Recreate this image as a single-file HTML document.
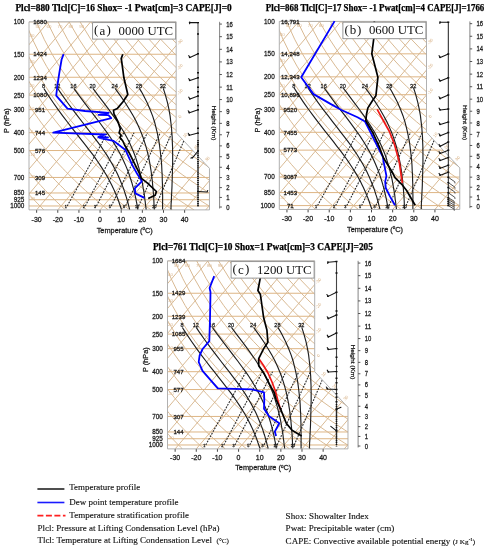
<!DOCTYPE html><html><head><meta charset="utf-8"><style>
    html,body{margin:0;padding:0;background:#fff;overflow:hidden}
    svg{display:block}
    text{font-family:"Liberation Sans",sans-serif;fill:#1a1a1a;stroke:#1a1a1a;stroke-width:0.26px}
    .pl{font-size:7px;text-anchor:end}
    .hl{font-size:6.1px;text-anchor:middle}
    .ml{font-size:5.6px;text-anchor:middle;fill:#444}
    .tn{font-size:4.4px;text-anchor:middle;fill:#d9b48a;stroke:none}
    .mr{font-size:3.8px;text-anchor:middle;fill:#444}
    .tl{font-size:7px;text-anchor:middle}
    .al{font-size:7.3px;text-anchor:middle}
    .hz{font-size:7.4px}
    .hk{font-size:5.9px;text-anchor:middle}
    .tt{font-family:"Liberation Serif",serif;font-weight:bold;font-size:9.4px;fill:#000;stroke:#000;stroke-width:0.25px}
    .bx{font-family:"Liberation Serif",serif;font-size:13px;fill:#111;stroke:none}
    .lg{font-family:"Liberation Serif",serif;font-size:8.2px;fill:#111;stroke:#111;stroke-width:0.12px}
    </style></head><body><svg width="489" height="550" viewBox="0 0 489 550">
<g transform="translate(0,0)"><clipPath id="ca"><polygon points="29,209.88 209.48,209.88 209.48,168.35 176.2,132.69 176.2,21.8 29,21.8"/></clipPath>
<g clip-path="url(#ca)" fill="none">
<path d="M29,21.8H176.2M29,54.24H176.2M29,77.25H176.2M29,95.09H176.2M29,109.68H176.2M29,132.69H176.2M29,150.54H192.86M29,177.45H209.48M29,192.98H209.48M29,199.74H209.48M29,205.98H209.48" stroke="#deb584" stroke-width="1"/>
<path d="M-153.63,209.88L6.14,21.8M-132.48,209.88L27.28,21.8M-111.34,209.88L48.42,21.8M-90.2,209.88L69.56,21.8M-69.06,209.88L90.7,21.8M-47.92,209.88L111.84,21.8M-26.78,209.88L132.98,21.8M-5.64,209.88L154.12,21.8M15.5,209.88L175.26,21.8M36.64,209.88L196.4,21.8M57.78,209.88L217.55,21.8M78.93,209.88L238.69,21.8M100.07,209.88L259.83,21.8M121.21,209.88L280.97,21.8M142.35,209.88L302.11,21.8M163.49,209.88L323.25,21.8M184.63,209.88L344.39,21.8M205.77,209.88L365.53,21.8M43.86,209.88 L41.92,207.95 L39.96,205.98 L37.97,203.95 L35.97,201.88 L33.93,199.74 L31.87,197.55 L29.79,195.3 L27.68,192.98 L25.54,190.59 L23.37,188.13 L21.17,185.59 L18.94,182.97 L16.68,180.26 L14.39,177.45 L12.06,174.54 L9.7,171.52 L7.3,168.39 L4.86,165.12 L2.38,161.72 L-0.13,158.16 L-2.69,154.44 L-5.3,150.54 L-7.95,146.43 L-10.64,142.11 L-13.39,137.54 L-16.18,132.69 L-19.03,127.53 L-21.92,122.01 L-24.86,116.08 L-27.86,109.68 L-30.89,102.72 L-33.96,95.09 L-37.06,86.67 L-40.17,77.25 L-43.25,66.57 L-46.23,54.24 L-49.02,39.65 L-51.39,21.8M65.3,209.88 L63.21,207.95 L61.1,205.98 L58.96,203.95 L56.8,201.88 L54.61,199.74 L52.39,197.55 L50.14,195.3 L47.86,192.98 L45.55,190.59 L43.21,188.13 L40.83,185.59 L38.42,182.97 L35.97,180.26 L33.48,177.45 L30.96,174.54 L28.39,171.52 L25.78,168.39 L23.13,165.12 L20.43,161.72 L17.69,158.16 L14.89,154.44 L12.04,150.54 L9.14,146.43 L6.18,142.11 L3.17,137.54 L0.09,132.69 L-3.05,127.53 L-6.26,122.01 L-9.53,116.08 L-12.87,109.68 L-16.27,102.72 L-19.74,95.09 L-23.26,86.67 L-26.82,77.25 L-30.4,66.57 L-33.94,54.24 L-37.35,39.65 L-40.44,21.8M86.73,209.88 L84.5,207.95 L82.24,205.98 L79.95,203.95 L77.63,201.88 L75.28,199.74 L72.9,197.55 L70.49,195.3 L68.04,192.98 L65.56,190.59 L63.04,188.13 L60.49,185.59 L57.89,182.97 L55.25,180.26 L52.58,177.45 L49.85,174.54 L47.08,171.52 L44.27,168.39 L41.4,165.12 L38.48,161.72 L35.51,158.16 L32.48,154.44 L29.39,150.54 L26.23,146.43 L23.01,142.11 L19.72,137.54 L16.36,132.69 L12.92,127.53 L9.41,122.01 L5.81,116.08 L2.12,109.68 L-1.65,102.72 L-5.51,95.09 L-9.45,86.67 L-13.47,77.25 L-17.55,66.57 L-21.64,54.24 L-25.68,39.65 L-29.49,21.8M108.17,209.88 L105.79,207.95 L103.38,205.98 L100.94,203.95 L98.47,201.88 L95.96,199.74 L93.42,197.55 L90.84,195.3 L88.22,192.98 L85.57,190.59 L82.88,188.13 L80.14,185.59 L77.36,182.97 L74.54,180.26 L71.67,177.45 L68.75,174.54 L65.78,171.52 L62.75,168.39 L59.67,165.12 L56.53,161.72 L53.33,158.16 L50.06,154.44 L46.73,150.54 L43.32,146.43 L39.84,142.11 L36.28,137.54 L32.63,132.69 L28.9,127.53 L25.07,122.01 L21.14,116.08 L17.11,109.68 L12.97,102.72 L8.72,95.09 L4.35,86.67 L-0.12,77.25 L-4.7,66.57 L-9.35,54.24 L-14.01,39.65 L-18.54,21.8M129.61,209.88 L127.08,207.95 L124.52,205.98 L121.93,203.95 L119.3,201.88 L116.63,199.74 L113.93,197.55 L111.19,195.3 L108.41,192.98 L105.58,190.59 L102.71,188.13 L99.8,185.59 L96.84,182.97 L93.82,180.26 L90.76,177.45 L87.64,174.54 L84.47,171.52 L81.24,168.39 L77.94,165.12 L74.58,161.72 L71.15,158.16 L67.65,154.44 L64.07,150.54 L60.41,146.43 L56.67,142.11 L52.83,137.54 L48.9,132.69 L44.87,127.53 L40.73,122.01 L36.47,116.08 L32.1,109.68 L27.59,102.72 L22.94,95.09 L18.16,86.67 L13.22,77.25 L8.15,66.57 L2.95,54.24 L-2.34,39.65 L-7.58,21.8M151.05,209.88 L148.37,207.95 L145.66,205.98 L142.92,203.95 L140.13,201.88 L137.31,199.74 L134.44,197.55 L131.54,195.3 L128.59,192.98 L125.59,190.59 L122.55,188.13 L119.45,185.59 L116.31,182.97 L113.11,180.26 L109.85,177.45 L106.54,174.54 L103.16,171.52 L99.72,168.39 L96.21,165.12 L92.63,161.72 L88.97,158.16 L85.24,154.44 L81.42,150.54 L77.5,146.43 L73.5,142.11 L69.39,137.54 L65.18,132.69 L60.85,127.53 L56.39,122.01 L51.81,116.08 L47.08,109.68 L42.21,102.72 L37.17,95.09 L31.96,86.67 L26.57,77.25 L21,66.57 L15.24,54.24 L9.34,39.65 L3.37,21.8M172.49,209.88 L169.66,207.95 L166.8,205.98 L163.91,203.95 L160.97,201.88 L157.98,199.74 L154.96,197.55 L151.89,195.3 L148.77,192.98 L145.6,190.59 L142.38,188.13 L139.11,185.59 L135.78,182.97 L132.39,180.26 L128.95,177.45 L125.44,174.54 L121.86,171.52 L118.21,168.39 L114.48,165.12 L110.68,161.72 L106.8,158.16 L102.82,154.44 L98.76,150.54 L94.59,146.43 L90.33,142.11 L85.95,137.54 L81.45,132.69 L76.82,127.53 L72.06,122.01 L67.14,116.08 L62.07,109.68 L56.83,102.72 L51.4,95.09 L45.77,86.67 L39.92,77.25 L33.85,66.57 L27.54,54.24 L21.01,39.65 L14.32,21.8M193.92,209.88 L190.95,207.95 L187.95,205.98 L184.89,203.95 L181.8,201.88 L178.66,199.74 L175.47,197.55 L172.24,195.3 L168.95,192.98 L165.61,190.59 L162.22,188.13 L158.77,185.59 L155.25,182.97 L151.68,180.26 L148.04,177.45 L144.33,174.54 L140.55,171.52 L136.69,168.39 L132.75,165.12 L128.73,161.72 L124.62,158.16 L120.41,154.44 L116.1,150.54 L111.69,146.43 L107.16,142.11 L102.5,137.54 L97.72,132.69 L92.8,127.53 L87.72,122.01 L82.48,116.08 L77.06,109.68 L71.45,102.72 L65.63,95.09 L59.57,86.67 L53.27,77.25 L46.7,66.57 L39.83,54.24 L32.68,39.65 L25.27,21.8M215.36,209.88 L212.25,207.95 L209.09,205.98 L205.88,203.95 L202.63,201.88 L199.33,199.74 L195.99,197.55 L192.59,195.3 L189.13,192.98 L185.62,190.59 L182.05,188.13 L178.42,185.59 L174.73,182.97 L170.97,180.26 L167.13,177.45 L163.23,174.54 L159.24,171.52 L155.18,168.39 L151.02,165.12 L146.78,161.72 L142.44,158.16 L138,154.44 L133.44,150.54 L128.78,146.43 L123.98,142.11 L119.06,137.54 L113.99,132.69 L108.77,127.53 L103.38,122.01 L97.81,116.08 L92.05,109.68 L86.07,102.72 L79.85,95.09 L73.38,86.67 L66.62,77.25 L59.54,66.57 L52.13,54.24 L44.35,39.65 L36.22,21.8M236.8,209.88 L233.54,207.95 L230.23,205.98 L226.87,203.95 L223.47,201.88 L220.01,199.74 L216.5,197.55 L212.94,195.3 L209.31,192.98 L205.63,190.59 L201.89,188.13 L198.08,185.59 L194.2,182.97 L190.25,180.26 L186.23,177.45 L182.12,174.54 L177.93,171.52 L173.66,168.39 L169.29,165.12 L164.83,161.72 L160.26,158.16 L155.58,154.44 L150.79,150.54 L145.87,146.43 L140.81,142.11 L135.62,137.54 L130.26,132.69 L124.74,127.53 L119.04,122.01 L113.15,116.08 L107.04,109.68 L100.69,102.72 L94.08,95.09 L87.18,86.67 L79.97,77.25 L72.39,66.57 L64.42,54.24 L56.02,39.65 L47.17,21.8M258.24,209.88 L254.83,207.95 L251.37,205.98 L247.86,203.95 L244.3,201.88 L240.69,199.74 L237.02,197.55 L233.29,195.3 L229.5,192.98 L225.64,190.59 L221.72,188.13 L217.73,185.59 L213.67,182.97 L209.54,180.26 L205.32,177.45 L201.02,174.54 L196.63,171.52 L192.14,168.39 L187.56,165.12 L182.88,161.72 L178.08,158.16 L173.17,154.44 L168.13,150.54 L162.96,146.43 L157.64,142.11 L152.17,137.54 L146.53,132.69 L140.72,127.53 L134.71,122.01 L128.48,116.08 L122.02,109.68 L115.31,102.72 L108.31,95.09 L100.99,86.67 L93.31,77.25 L85.24,66.57 L76.72,54.24 L67.69,39.65 L58.12,21.8M279.67,209.88 L276.12,207.95 L272.51,205.98 L268.85,203.95 L265.13,201.88 L261.36,199.74 L257.53,197.55 L253.64,195.3 L249.68,192.98 L245.65,190.59 L241.56,188.13 L237.39,185.59 L233.15,182.97 L228.82,180.26 L224.41,177.45 L219.91,174.54 L215.32,171.52 L210.63,168.39 L205.83,165.12 L200.93,161.72 L195.9,158.16 L190.76,154.44 L185.47,150.54 L180.05,146.43 L174.47,142.11 L168.73,137.54 L162.81,132.69 L156.69,127.53 L150.37,122.01 L143.82,116.08 L137.01,109.68 L129.93,102.72 L122.53,95.09 L114.79,86.67 L106.66,77.25 L98.09,66.57 L89.01,54.24 L79.36,39.65 L69.07,21.8M301.11,209.88 L297.41,207.95 L293.65,205.98 L289.84,203.95 L285.97,201.88 L282.04,199.74 L278.04,197.55 L273.99,195.3 L269.86,192.98 L265.66,190.59 L261.39,188.13 L257.05,185.59 L252.62,182.97 L248.11,180.26 L243.5,177.45 L238.81,174.54 L234.01,171.52 L229.11,168.39 L224.1,165.12 L218.98,161.72 L213.73,158.16 L208.34,154.44 L202.82,150.54 L197.14,146.43 L191.3,142.11 L185.28,137.54 L179.08,132.69 L172.67,127.53 L166.03,122.01 L159.15,116.08 L152,109.68 L144.55,102.72 L136.76,95.09 L128.6,86.67 L120.01,77.25 L110.94,66.57 L101.31,54.24 L91.03,39.65 L80.02,21.8M322.55,209.88 L318.7,207.95 L314.79,205.98 L310.83,203.95 L306.8,201.88 L302.71,199.74 L298.56,197.55 L294.34,195.3 L290.04,192.98 L285.67,190.59 L281.23,188.13 L276.7,185.59 L272.09,182.97 L267.39,180.26 L262.6,177.45 L257.7,174.54 L252.71,171.52 L247.6,168.39 L242.37,165.12 L237.03,161.72 L231.55,158.16 L225.93,154.44 L220.16,150.54 L214.23,146.43 L208.13,142.11 L201.84,137.54 L195.35,132.69 L188.64,127.53 L181.69,122.01 L174.49,116.08 L166.99,109.68 L159.17,102.72 L150.99,95.09 L142.4,86.67 L133.36,77.25 L123.79,66.57 L113.6,54.24 L102.7,39.65 L90.97,21.8M343.99,209.88 L339.99,207.95 L335.93,205.98 L331.81,203.95 L327.63,201.88 L323.39,199.74 L319.07,197.55 L314.68,195.3 L310.22,192.98 L305.68,190.59 L301.06,188.13 L296.36,185.59 L291.56,182.97 L286.68,180.26 L281.69,177.45 L276.6,174.54 L271.4,171.52 L266.08,168.39 L260.64,165.12 L255.08,161.72 L249.37,158.16 L243.51,154.44 L237.5,150.54 L231.32,146.43 L224.96,142.11 L218.4,137.54 L211.62,132.69 L204.62,127.53 L197.36,122.01 L189.82,116.08 L181.97,109.68 L173.79,102.72 L165.21,95.09 L156.21,86.67 L146.71,77.25 L136.64,66.57 L125.9,54.24 L114.38,39.65 L101.92,21.8M365.43,209.88 L361.28,207.95 L357.07,205.98 L352.8,203.95 L348.47,201.88 L344.06,199.74 L339.59,197.55 L335.03,195.3 L330.41,192.98 L325.7,190.59 L320.9,188.13 L316.02,185.59 L311.04,182.97 L305.96,180.26 L300.78,177.45 L295.49,174.54 L290.09,171.52 L284.57,168.39 L278.91,165.12 L273.13,161.72 L267.19,158.16 L261.1,154.44 L254.84,150.54 L248.41,146.43 L241.78,142.11 L234.95,137.54 L227.89,132.69 L220.59,127.53 L213.02,122.01 L205.15,116.08 L196.96,109.68 L188.41,102.72 L179.44,95.09 L170.01,86.67 L160.06,77.25 L149.49,66.57 L138.19,54.24 L126.05,39.65 L112.87,21.8M386.86,209.88 L382.57,207.95 L378.21,205.98 L373.79,203.95 L369.3,201.88 L364.74,199.74 L360.1,197.55 L355.38,195.3 L350.59,192.98 L345.71,190.59 L340.74,188.13 L335.67,185.59 L330.51,182.97 L325.25,180.26 L319.88,177.45 L314.39,174.54 L308.78,171.52 L303.05,168.39 L297.18,165.12 L291.17,161.72 L285.01,158.16 L278.69,154.44 L272.19,150.54 L265.5,146.43 L258.61,142.11 L251.51,137.54 L244.17,132.69 L236.57,127.53 L228.68,122.01 L220.49,116.08 L211.95,109.68 L203.03,102.72 L193.67,95.09 L183.82,86.67 L173.41,77.25 L162.33,66.57 L150.49,54.24 L137.72,39.65 L123.82,21.8M408.3,209.88 L403.86,207.95 L399.36,205.98 L394.78,203.95 L390.13,201.88 L385.41,199.74 L380.61,197.55 L375.73,195.3 L370.77,192.98 L365.72,190.59 L360.57,188.13 L355.33,185.59 L349.98,182.97 L344.53,180.26 L338.97,177.45 L333.29,174.54 L327.48,171.52 L321.54,168.39 L315.46,165.12 L309.22,161.72 L302.83,158.16 L296.27,154.44 L289.53,150.54 L282.59,146.43 L275.44,142.11 L268.06,137.54 L260.44,132.69 L252.54,127.53 L244.35,122.01 L235.82,116.08 L226.94,109.68 L217.65,102.72 L207.9,95.09 L197.62,86.67 L186.75,77.25 L175.18,66.57 L162.78,54.24 L149.39,39.65 L134.77,21.8M429.74,209.88 L425.15,207.95 L420.5,205.98 L415.77,203.95 L410.97,201.88 L406.09,199.74 L401.13,197.55 L396.08,195.3 L390.95,192.98 L385.73,190.59 L380.41,188.13 L374.98,185.59 L369.46,182.97 L363.82,180.26 L358.06,177.45 L352.18,174.54 L346.17,171.52 L340.02,168.39 L333.73,165.12 L327.27,161.72 L320.66,158.16 L313.86,154.44 L306.87,150.54 L299.68,146.43 L292.27,142.11 L284.62,137.54 L276.71,132.69 L268.51,127.53 L260.01,122.01 L251.16,116.08 L241.93,109.68 L232.27,102.72 L222.12,95.09 L211.43,86.67 L200.1,77.25 L188.03,66.57 L175.08,54.24 L161.06,39.65 L145.72,21.8M451.18,209.88 L446.44,207.95 L441.64,205.98 L436.76,203.95 L431.8,201.88 L426.76,199.74 L421.64,197.55 L416.43,195.3 L411.13,192.98 L405.74,190.59 L400.24,188.13 L394.64,185.59 L388.93,182.97 L383.1,180.26 L377.15,177.45 L371.08,174.54 L364.86,171.52 L358.51,168.39 L352,165.12 L345.32,161.72 L338.48,158.16 L331.45,154.44 L324.22,150.54 L316.77,146.43 L309.1,142.11 L301.18,137.54 L292.98,132.69 L284.49,127.53 L275.67,122.01 L266.49,116.08 L256.91,109.68 L246.89,102.72 L236.35,95.09 L225.24,86.67 L213.45,77.25 L200.88,66.57 L187.38,54.24 L172.73,39.65 L156.67,21.8M472.61,209.88 L467.73,207.95 L462.78,205.98 L457.75,203.95 L452.63,201.88 L447.44,199.74 L442.16,197.55 L436.78,195.3 L431.31,192.98 L425.75,190.59 L420.08,188.13 L414.3,185.59 L408.4,182.97 L402.39,180.26 L396.25,177.45 L389.97,174.54 L383.56,171.52 L376.99,168.39 L370.27,165.12 L363.37,161.72 L356.3,158.16 L349.03,154.44 L341.56,150.54 L333.86,146.43 L325.93,142.11 L317.73,137.54 L309.25,132.69 L300.46,127.53 L291.33,122.01 L281.83,116.08 L271.9,109.68 L261.51,102.72 L250.58,95.09 L239.04,86.67 L226.8,77.25 L213.73,66.57 L199.67,54.24 L184.4,39.65 L167.62,21.8" stroke="#d7b68e" stroke-width="0.95"/>
<path d="M121.66,209.88 L120.95,207.95 L120.27,205.98 L119.55,203.95 L118.87,201.88 L118.12,199.74 L117.3,197.55 L116.28,195.3 L115.32,192.98 L114.29,190.59 L113.21,188.13 L111.94,185.59 L110.63,182.97 L109.26,180.26 L107.73,177.45 L106.04,174.54 L104.2,171.52 L102.22,168.39 L100.09,165.12 L97.84,161.72 L95.35,158.16 L92.64,154.44 L89.7,150.54 L86.45,146.43 L83.14,142.11 L79.55,137.54 L75.71,132.69 L71.64,127.53 L67.38,122.01 L62.86,116.08 L58.13,109.68 L53.27,102.72 L48.11,95.09 L45.99,91.83 L43.87,88.43M129.71,209.88 L129.25,207.95 L128.69,205.98 L128.22,203.95 L127.67,201.88 L127.04,199.74 L126.47,197.55 L125.69,195.3 L124.98,192.98 L124.2,190.59 L123.37,188.13 L122.35,185.59 L121.28,182.97 L120.16,180.26 L119,177.45 L117.69,174.54 L116.22,171.52 L114.6,168.39 L112.85,165.12 L110.85,161.72 L108.73,158.16 L106.39,154.44 L103.7,150.54 L100.94,146.43 L97.76,142.11 L94.29,137.54 L90.57,132.69 L86.62,127.53 L82.25,122.01 L77.73,116.08 L72.75,109.68 L67.64,102.72 L62.24,95.09 L59.99,91.83 L57.74,88.43M137.89,209.88 L137.54,207.95 L137.24,205.98 L136.89,203.95 L136.46,201.88 L136.08,199.74 L135.63,197.55 L135.11,195.3 L134.52,192.98 L133.99,190.59 L133.4,188.13 L132.63,185.59 L131.93,182.97 L131.06,180.26 L130.15,177.45 L129.21,174.54 L128.11,171.52 L126.87,168.39 L125.49,165.12 L123.98,161.72 L122.36,158.16 L120.51,154.44 L118.32,150.54 L115.93,146.43 L113.37,142.11 L110.4,137.54 L107.05,132.69 L103.22,127.53 L99.22,122.01 L94.7,116.08 L89.72,109.68 L84.36,102.72 L78.71,95.09 L76.34,91.83 L73.84,88.43M146.19,209.88 L145.97,207.95 L145.66,205.98 L145.44,203.95 L145.26,201.88 L144.88,199.74 L144.67,197.55 L144.4,195.3 L144.06,192.98 L143.65,190.59 L143.19,188.13 L142.79,185.59 L142.34,182.97 L141.84,180.26 L141.18,177.45 L140.48,174.54 L139.75,171.52 L139.01,168.39 L138,165.12 L136.99,161.72 L135.86,158.16 L134.51,154.44 L132.94,150.54 L131.17,146.43 L129.22,142.11 L126.87,137.54 L124.26,132.69 L121.06,127.53 L117.55,122.01 L113.52,116.08 L108.92,109.68 L103.69,102.72 L97.91,95.09 L95.54,91.83 L92.92,88.43M154.36,209.88 L154.27,207.95 L154.09,205.98 L153.99,203.95 L153.93,201.88 L153.8,199.74 L153.72,197.55 L153.57,195.3 L153.35,192.98 L153.19,190.59 L152.97,188.13 L152.7,185.59 L152.49,182.97 L152.25,180.26 L151.83,177.45 L151.51,174.54 L151.15,171.52 L150.65,168.39 L150.14,165.12 L149.5,161.72 L148.74,158.16 L148.01,154.44 L147.06,150.54 L145.91,146.43 L144.58,142.11 L143.1,137.54 L141.23,132.69 L139.02,127.53 L136.5,122.01 L133.34,116.08 L129.61,109.68 L125.24,102.72 L119.96,95.09 L117.59,91.83 L115.09,88.43M162.66,209.88 L162.57,207.95 L162.63,205.98 L162.53,203.95 L162.6,201.88 L162.59,199.74 L162.64,197.55 L162.61,195.3 L162.51,192.98 L162.48,190.59 L162.51,188.13 L162.48,185.59 L162.4,182.97 L162.28,180.26 L162.24,177.45 L162.16,174.54 L161.93,171.52 L161.8,168.39 L161.66,165.12 L161.39,161.72 L161.01,158.16 L160.64,154.44 L160.19,150.54 L159.66,146.43 L159.08,142.11 L158.21,137.54 L157.21,132.69 L155.99,127.53 L154.59,122.01 L152.67,116.08 L150.17,109.68 L147.16,102.72 L143.25,95.09 L141.5,91.83 L139.37,88.43M170.96,209.88 L170.99,207.95 L171.06,205.98 L171.08,203.95 L171.27,201.88 L171.39,199.74 L171.43,197.55 L171.53,195.3 L171.68,192.98 L171.77,190.59 L171.92,188.13 L172.02,185.59 L172.07,182.97 L172.19,180.26 L172.27,177.45 L172.32,174.54 L172.46,171.52 L172.45,168.39 L172.56,165.12 L172.66,161.72 L172.65,158.16 L172.66,154.44 L172.58,150.54 L172.54,146.43 L172.33,142.11 L172.21,137.54 L171.83,132.69 L171.48,127.53 L170.81,122.01 L170.13,116.08 L169,109.68 L167.48,102.72 L165.42,95.09 L164.41,91.83 L163.28,88.43" stroke="#1e1e1e" stroke-width="1.15"/>
<path d="M67.25,205.98L107.53,132.69M85.29,205.98L123.92,132.69M96.48,205.98L134.05,132.69M111.28,205.98L147.41,132.69M125.65,205.98L160.34,132.69M138.63,205.98L171.98,132.69M155.76,205.98L187.31,132.69" stroke="#2a2a2a" stroke-width="1.1" stroke-dasharray="1.8,1.2"/>
</g>
<polygon points="29,209.88 209.48,209.88 209.48,168.35 176.2,132.69 176.2,21.8 29,21.8" fill="none" stroke="#a8a8a8" stroke-width="0.9"/>
<text class="tn" transform="translate(179.8,41.98) rotate(-49)" y="1.5">-30</text>
<text class="tn" transform="translate(179.8,66.87) rotate(-49)" y="1.5">-20</text>
<text class="tn" transform="translate(179.8,91.76) rotate(-49)" y="1.5">-10</text>
<text class="tn" transform="translate(179.8,116.65) rotate(-49)" y="1.5">0</text>
<text class="tn" transform="translate(185.14,135.22) rotate(-49)" y="1.5">10</text>
<text class="tn" transform="translate(196.2,147.08) rotate(-49)" y="1.5">20</text>
<text class="tn" transform="translate(207.27,158.94) rotate(-49)" y="1.5">30</text>
<text x="38.02" y="27.8" class="tn">50</text>
<text x="48.97" y="27.8" class="tn">60</text>
<text x="59.92" y="27.8" class="tn">70</text>
<text x="70.87" y="27.8" class="tn">80</text>
<text x="81.82" y="27.8" class="tn">90</text>
<text x="32" y="36.7" class="tn">40</text>
<text x="32" y="62.7" class="tn">30</text>
<text x="32" y="87.1" class="tn">20</text>
<text x="32" y="110.4" class="tn">10</text>
<text x="32" y="133.2" class="tn">0</text>
<text x="32" y="155.5" class="tn">-10</text>
<text x="32" y="177.7" class="tn">-20</text>
<text x="32" y="199.9" class="tn">-30</text>
<text x="43.47" y="87.93" class="ml">8</text>
<text x="57.34" y="87.93" class="ml">12</text>
<text x="73.44" y="87.93" class="ml">16</text>
<text x="92.52" y="87.93" class="ml">20</text>
<text x="114.69" y="87.93" class="ml">24</text>
<text x="138.97" y="87.93" class="ml">28</text>
<text x="162.88" y="87.93" class="ml">32</text>
<text x="65.75" y="208.18" class="mr">1</text>
<text x="83.79" y="208.18" class="mr">2</text>
<text x="94.98" y="208.18" class="mr">3</text>
<text x="109.78" y="208.18" class="mr">5</text>
<text x="124.15" y="208.18" class="mr">8</text>
<text x="137.13" y="208.18" class="mr">12</text>
<text x="154.26" y="208.18" class="mr">20</text>
<text x="24.4" y="24.25" class="pl" textLength="10.65" lengthAdjust="spacingAndGlyphs">100</text>
<text x="24.4" y="56.69" class="pl" textLength="10.65" lengthAdjust="spacingAndGlyphs">150</text>
<text x="24.4" y="79.7" class="pl" textLength="10.65" lengthAdjust="spacingAndGlyphs">200</text>
<text x="24.4" y="97.54" class="pl" textLength="10.65" lengthAdjust="spacingAndGlyphs">250</text>
<text x="24.4" y="112.13" class="pl" textLength="10.65" lengthAdjust="spacingAndGlyphs">300</text>
<text x="24.4" y="135.14" class="pl" textLength="10.65" lengthAdjust="spacingAndGlyphs">400</text>
<text x="24.4" y="152.99" class="pl" textLength="10.65" lengthAdjust="spacingAndGlyphs">500</text>
<text x="24.4" y="179.9" class="pl" textLength="10.65" lengthAdjust="spacingAndGlyphs">700</text>
<text x="24.4" y="195.43" class="pl" textLength="10.65" lengthAdjust="spacingAndGlyphs">850</text>
<text x="24.4" y="202.19" class="pl" textLength="10.65" lengthAdjust="spacingAndGlyphs">925</text>
<text x="24.4" y="208.43" class="pl" textLength="14.2" lengthAdjust="spacingAndGlyphs">1000</text>
<text x="40" y="24.05" class="hl">1680</text>
<text x="40" y="56.49" class="hl">1424</text>
<text x="40" y="79.5" class="hl">1234</text>
<text x="40" y="97.34" class="hl">1080</text>
<text x="40" y="111.93" class="hl">951</text>
<text x="40" y="134.94" class="hl">744</text>
<text x="40" y="152.79" class="hl">576</text>
<text x="40" y="179.7" class="hl">309</text>
<text x="40" y="195.23" class="hl">145</text>
<text x="36.64" y="221.8" class="tl">-30</text>
<text x="57.78" y="221.8" class="tl">-20</text>
<text x="78.93" y="221.8" class="tl">-10</text>
<text x="100.07" y="221.8" class="tl">0</text>
<text x="121.21" y="221.8" class="tl">10</text>
<text x="142.35" y="221.8" class="tl">20</text>
<text x="163.49" y="221.8" class="tl">30</text>
<text x="184.63" y="221.8" class="tl">40</text>
<path d="M36.64,210.18v2.6M57.78,210.18v2.6M78.93,210.18v2.6M100.07,210.18v2.6M121.21,210.18v2.6M142.35,210.18v2.6M163.49,210.18v2.6M184.63,210.18v2.6" stroke="#333" stroke-width="0.9"/>
<text x="124.7" y="232.6" class="al" textLength="56" lengthAdjust="spacingAndGlyphs">Temperature (<tspan font-size="4.5" dy="-2.8">o</tspan><tspan dy="2.8">C)</tspan></text>
<text transform="translate(9.2,120.6) rotate(-90)" class="al">P (hPa)</text>
<path d="M219.6,21.8V208.53" stroke="#666" stroke-width="0.8"/>
<text x="226.2" y="209.58" class="hz" textLength="3.3" lengthAdjust="spacingAndGlyphs">0</text>
<text x="226.2" y="199.99" class="hz" textLength="3.3" lengthAdjust="spacingAndGlyphs">1</text>
<text x="226.2" y="190.17" class="hz" textLength="3.3" lengthAdjust="spacingAndGlyphs">2</text>
<text x="226.2" y="180.12" class="hz" textLength="3.3" lengthAdjust="spacingAndGlyphs">3</text>
<text x="226.2" y="169.83" class="hz" textLength="3.3" lengthAdjust="spacingAndGlyphs">4</text>
<text x="226.2" y="159.27" class="hz" textLength="3.3" lengthAdjust="spacingAndGlyphs">5</text>
<text x="226.2" y="148.44" class="hz" textLength="3.3" lengthAdjust="spacingAndGlyphs">6</text>
<text x="226.2" y="137.33" class="hz" textLength="3.3" lengthAdjust="spacingAndGlyphs">7</text>
<text x="226.2" y="125.92" class="hz" textLength="3.3" lengthAdjust="spacingAndGlyphs">8</text>
<text x="226.2" y="114.18" class="hz" textLength="3.3" lengthAdjust="spacingAndGlyphs">9</text>
<text x="226.2" y="102.11" class="hz" textLength="6.6" lengthAdjust="spacingAndGlyphs">10</text>
<text x="226.2" y="89.68" class="hz" textLength="6.6" lengthAdjust="spacingAndGlyphs">11</text>
<text x="226.2" y="77.07" class="hz" textLength="6.6" lengthAdjust="spacingAndGlyphs">12</text>
<text x="226.2" y="64.46" class="hz" textLength="6.6" lengthAdjust="spacingAndGlyphs">13</text>
<text x="226.2" y="51.85" class="hz" textLength="6.6" lengthAdjust="spacingAndGlyphs">14</text>
<text x="226.2" y="39.23" class="hz" textLength="6.6" lengthAdjust="spacingAndGlyphs">15</text>
<text x="226.2" y="26.62" class="hz" textLength="6.6" lengthAdjust="spacingAndGlyphs">16</text>
<path d="M219.6,207.03h2.3M219.6,197.44h2.3M219.6,187.62h2.3M219.6,177.57h2.3M219.6,167.28h2.3M219.6,156.72h2.3M219.6,145.89h2.3M219.6,134.78h2.3M219.6,123.37h2.3M219.6,111.63h2.3M219.6,99.56h2.3M219.6,87.13h2.3M219.6,74.52h2.3M219.6,61.91h2.3M219.6,49.3h2.3M219.6,36.68h2.3M219.6,24.07h2.3" stroke="#444" stroke-width="0.9"/>
<text transform="translate(212.3,123) rotate(90)" class="hk" textLength="35" lengthAdjust="spacingAndGlyphs">Height (Km)</text><path d="M198,22.3V206.48" stroke="#8c8c8c" stroke-width="1.7"/>
<path d="M198,22.6L190,22.6M190,22.6l-0.5,1.2M198,53.7L190,57.5M190,57.5l-1.3,-1.9M198,77.7L190,80.5M190,80.5l-1.3,-1.9M198,96L190,99M190,99l-1.3,-1.9M198,109.8L189.5,112.7M189.5,112.7l-1.3,-1.9M198,133.1L189.5,135.2M189.5,135.2l-1.3,-1.9M198,151L192.5,157.8M192.5,157.8l-1.6,0.3M198,191.5L207.1,192.1M207.1,192.1l0.6,-1.6" stroke="#151515" stroke-width="1.05" fill="none" stroke-linecap="round"/>
<path d="M189.7,22.4h0.01M189.7,57.3h0.01M189.7,80.3h0.01M189.7,98.8h0.01M189.2,112.5h0.01M189.2,135h0.01M192.2,157.6h0.01" stroke="#151515" stroke-width="1.8" stroke-linecap="round"/>
<path d="M197,34h2M197,53.7h2M197,72.7h2M197,87.3h2M197,91.8h2M197,105.5h2M197,128.2h2M197,144.5h2M197,22.6h2M197,53.7h2M197,77.7h2M197,96h2M197,109.8h2M197,133.1h2M197,151h2M197,191.5h2" stroke="#111" stroke-width="1.4"/>
<path d="M198,140V207" stroke="#111" stroke-width="1.6" stroke-dasharray="1.2,0.9"/></g>
<path d="M63.6,54.1 L61.6,59.5 L59.2,73.7 L57.4,85.5 L56.2,95.6 L67.5,108.6 L85,111 L108.8,112.8 L98.6,114.8 L108.4,115.2 L111.3,118.1 L53.2,132.7 L105.6,134.5 L98.2,137 L108,137.4 L99,137.8 L113.6,140.9 L125.5,150 L132.7,165.9 L137.3,174.1 L139.6,177.6 L141.8,181.3 L134.8,188.3 L135.4,193.4 L144.4,197.9" fill="none" stroke="#0000ff" stroke-width="1.8" stroke-linejoin="round"/>
<path d="M122.8,54.3 L121.2,58.6 L121.7,61.4 L123.9,77.8 L127.8,94.5 L122.8,102 L117.4,108.4 L113.5,110.3 L114,114 L117.9,121.4 L120.3,128.8 L119.1,132.9 L121.1,135.3 L119.9,137.4 L122.8,141 L124.6,145 L129.1,152.7 L139.9,174.4 L141.2,178.2 L146.9,182.6 L156.4,191.5 L155.2,195.3 L148.2,198.5" fill="none" stroke="#000" stroke-width="1.7" stroke-linejoin="round"/>
<g transform="translate(0,0)"><rect x="92.6" y="22.6" width="83" height="16.5" fill="#fff" stroke="#8c8c8c" stroke-width="0.9"/><text x="94.1" y="34" class="bx">(</text><text x="99.4" y="34.8" class="bx">a</text><text x="106.6" y="34" class="bx">)</text><text x="118.6" y="34.8" class="bx" textLength="54.4" lengthAdjust="spacingAndGlyphs">0000 UTC</text></g>
<g transform="translate(250.3,-0.4)"><clipPath id="cb"><polygon points="29,209.88 209.48,209.88 209.48,168.35 176.2,132.69 176.2,21.8 29,21.8"/></clipPath>
<g clip-path="url(#cb)" fill="none">
<path d="M29,21.8H176.2M29,54.24H176.2M29,77.25H176.2M29,95.09H176.2M29,109.68H176.2M29,132.69H176.2M29,150.54H192.86M29,177.45H209.48M29,192.98H209.48M29,205.98H209.48" stroke="#deb584" stroke-width="1"/>
<path d="M-153.63,209.88L6.14,21.8M-132.48,209.88L27.28,21.8M-111.34,209.88L48.42,21.8M-90.2,209.88L69.56,21.8M-69.06,209.88L90.7,21.8M-47.92,209.88L111.84,21.8M-26.78,209.88L132.98,21.8M-5.64,209.88L154.12,21.8M15.5,209.88L175.26,21.8M36.64,209.88L196.4,21.8M57.78,209.88L217.55,21.8M78.93,209.88L238.69,21.8M100.07,209.88L259.83,21.8M121.21,209.88L280.97,21.8M142.35,209.88L302.11,21.8M163.49,209.88L323.25,21.8M184.63,209.88L344.39,21.8M205.77,209.88L365.53,21.8M43.86,209.88 L41.92,207.95 L39.96,205.98 L37.97,203.95 L35.97,201.88 L33.93,199.74 L31.87,197.55 L29.79,195.3 L27.68,192.98 L25.54,190.59 L23.37,188.13 L21.17,185.59 L18.94,182.97 L16.68,180.26 L14.39,177.45 L12.06,174.54 L9.7,171.52 L7.3,168.39 L4.86,165.12 L2.38,161.72 L-0.13,158.16 L-2.69,154.44 L-5.3,150.54 L-7.95,146.43 L-10.64,142.11 L-13.39,137.54 L-16.18,132.69 L-19.03,127.53 L-21.92,122.01 L-24.86,116.08 L-27.86,109.68 L-30.89,102.72 L-33.96,95.09 L-37.06,86.67 L-40.17,77.25 L-43.25,66.57 L-46.23,54.24 L-49.02,39.65 L-51.39,21.8M65.3,209.88 L63.21,207.95 L61.1,205.98 L58.96,203.95 L56.8,201.88 L54.61,199.74 L52.39,197.55 L50.14,195.3 L47.86,192.98 L45.55,190.59 L43.21,188.13 L40.83,185.59 L38.42,182.97 L35.97,180.26 L33.48,177.45 L30.96,174.54 L28.39,171.52 L25.78,168.39 L23.13,165.12 L20.43,161.72 L17.69,158.16 L14.89,154.44 L12.04,150.54 L9.14,146.43 L6.18,142.11 L3.17,137.54 L0.09,132.69 L-3.05,127.53 L-6.26,122.01 L-9.53,116.08 L-12.87,109.68 L-16.27,102.72 L-19.74,95.09 L-23.26,86.67 L-26.82,77.25 L-30.4,66.57 L-33.94,54.24 L-37.35,39.65 L-40.44,21.8M86.73,209.88 L84.5,207.95 L82.24,205.98 L79.95,203.95 L77.63,201.88 L75.28,199.74 L72.9,197.55 L70.49,195.3 L68.04,192.98 L65.56,190.59 L63.04,188.13 L60.49,185.59 L57.89,182.97 L55.25,180.26 L52.58,177.45 L49.85,174.54 L47.08,171.52 L44.27,168.39 L41.4,165.12 L38.48,161.72 L35.51,158.16 L32.48,154.44 L29.39,150.54 L26.23,146.43 L23.01,142.11 L19.72,137.54 L16.36,132.69 L12.92,127.53 L9.41,122.01 L5.81,116.08 L2.12,109.68 L-1.65,102.72 L-5.51,95.09 L-9.45,86.67 L-13.47,77.25 L-17.55,66.57 L-21.64,54.24 L-25.68,39.65 L-29.49,21.8M108.17,209.88 L105.79,207.95 L103.38,205.98 L100.94,203.95 L98.47,201.88 L95.96,199.74 L93.42,197.55 L90.84,195.3 L88.22,192.98 L85.57,190.59 L82.88,188.13 L80.14,185.59 L77.36,182.97 L74.54,180.26 L71.67,177.45 L68.75,174.54 L65.78,171.52 L62.75,168.39 L59.67,165.12 L56.53,161.72 L53.33,158.16 L50.06,154.44 L46.73,150.54 L43.32,146.43 L39.84,142.11 L36.28,137.54 L32.63,132.69 L28.9,127.53 L25.07,122.01 L21.14,116.08 L17.11,109.68 L12.97,102.72 L8.72,95.09 L4.35,86.67 L-0.12,77.25 L-4.7,66.57 L-9.35,54.24 L-14.01,39.65 L-18.54,21.8M129.61,209.88 L127.08,207.95 L124.52,205.98 L121.93,203.95 L119.3,201.88 L116.63,199.74 L113.93,197.55 L111.19,195.3 L108.41,192.98 L105.58,190.59 L102.71,188.13 L99.8,185.59 L96.84,182.97 L93.82,180.26 L90.76,177.45 L87.64,174.54 L84.47,171.52 L81.24,168.39 L77.94,165.12 L74.58,161.72 L71.15,158.16 L67.65,154.44 L64.07,150.54 L60.41,146.43 L56.67,142.11 L52.83,137.54 L48.9,132.69 L44.87,127.53 L40.73,122.01 L36.47,116.08 L32.1,109.68 L27.59,102.72 L22.94,95.09 L18.16,86.67 L13.22,77.25 L8.15,66.57 L2.95,54.24 L-2.34,39.65 L-7.58,21.8M151.05,209.88 L148.37,207.95 L145.66,205.98 L142.92,203.95 L140.13,201.88 L137.31,199.74 L134.44,197.55 L131.54,195.3 L128.59,192.98 L125.59,190.59 L122.55,188.13 L119.45,185.59 L116.31,182.97 L113.11,180.26 L109.85,177.45 L106.54,174.54 L103.16,171.52 L99.72,168.39 L96.21,165.12 L92.63,161.72 L88.97,158.16 L85.24,154.44 L81.42,150.54 L77.5,146.43 L73.5,142.11 L69.39,137.54 L65.18,132.69 L60.85,127.53 L56.39,122.01 L51.81,116.08 L47.08,109.68 L42.21,102.72 L37.17,95.09 L31.96,86.67 L26.57,77.25 L21,66.57 L15.24,54.24 L9.34,39.65 L3.37,21.8M172.49,209.88 L169.66,207.95 L166.8,205.98 L163.91,203.95 L160.97,201.88 L157.98,199.74 L154.96,197.55 L151.89,195.3 L148.77,192.98 L145.6,190.59 L142.38,188.13 L139.11,185.59 L135.78,182.97 L132.39,180.26 L128.95,177.45 L125.44,174.54 L121.86,171.52 L118.21,168.39 L114.48,165.12 L110.68,161.72 L106.8,158.16 L102.82,154.44 L98.76,150.54 L94.59,146.43 L90.33,142.11 L85.95,137.54 L81.45,132.69 L76.82,127.53 L72.06,122.01 L67.14,116.08 L62.07,109.68 L56.83,102.72 L51.4,95.09 L45.77,86.67 L39.92,77.25 L33.85,66.57 L27.54,54.24 L21.01,39.65 L14.32,21.8M193.92,209.88 L190.95,207.95 L187.95,205.98 L184.89,203.95 L181.8,201.88 L178.66,199.74 L175.47,197.55 L172.24,195.3 L168.95,192.98 L165.61,190.59 L162.22,188.13 L158.77,185.59 L155.25,182.97 L151.68,180.26 L148.04,177.45 L144.33,174.54 L140.55,171.52 L136.69,168.39 L132.75,165.12 L128.73,161.72 L124.62,158.16 L120.41,154.44 L116.1,150.54 L111.69,146.43 L107.16,142.11 L102.5,137.54 L97.72,132.69 L92.8,127.53 L87.72,122.01 L82.48,116.08 L77.06,109.68 L71.45,102.72 L65.63,95.09 L59.57,86.67 L53.27,77.25 L46.7,66.57 L39.83,54.24 L32.68,39.65 L25.27,21.8M215.36,209.88 L212.25,207.95 L209.09,205.98 L205.88,203.95 L202.63,201.88 L199.33,199.74 L195.99,197.55 L192.59,195.3 L189.13,192.98 L185.62,190.59 L182.05,188.13 L178.42,185.59 L174.73,182.97 L170.97,180.26 L167.13,177.45 L163.23,174.54 L159.24,171.52 L155.18,168.39 L151.02,165.12 L146.78,161.72 L142.44,158.16 L138,154.44 L133.44,150.54 L128.78,146.43 L123.98,142.11 L119.06,137.54 L113.99,132.69 L108.77,127.53 L103.38,122.01 L97.81,116.08 L92.05,109.68 L86.07,102.72 L79.85,95.09 L73.38,86.67 L66.62,77.25 L59.54,66.57 L52.13,54.24 L44.35,39.65 L36.22,21.8M236.8,209.88 L233.54,207.95 L230.23,205.98 L226.87,203.95 L223.47,201.88 L220.01,199.74 L216.5,197.55 L212.94,195.3 L209.31,192.98 L205.63,190.59 L201.89,188.13 L198.08,185.59 L194.2,182.97 L190.25,180.26 L186.23,177.45 L182.12,174.54 L177.93,171.52 L173.66,168.39 L169.29,165.12 L164.83,161.72 L160.26,158.16 L155.58,154.44 L150.79,150.54 L145.87,146.43 L140.81,142.11 L135.62,137.54 L130.26,132.69 L124.74,127.53 L119.04,122.01 L113.15,116.08 L107.04,109.68 L100.69,102.72 L94.08,95.09 L87.18,86.67 L79.97,77.25 L72.39,66.57 L64.42,54.24 L56.02,39.65 L47.17,21.8M258.24,209.88 L254.83,207.95 L251.37,205.98 L247.86,203.95 L244.3,201.88 L240.69,199.74 L237.02,197.55 L233.29,195.3 L229.5,192.98 L225.64,190.59 L221.72,188.13 L217.73,185.59 L213.67,182.97 L209.54,180.26 L205.32,177.45 L201.02,174.54 L196.63,171.52 L192.14,168.39 L187.56,165.12 L182.88,161.72 L178.08,158.16 L173.17,154.44 L168.13,150.54 L162.96,146.43 L157.64,142.11 L152.17,137.54 L146.53,132.69 L140.72,127.53 L134.71,122.01 L128.48,116.08 L122.02,109.68 L115.31,102.72 L108.31,95.09 L100.99,86.67 L93.31,77.25 L85.24,66.57 L76.72,54.24 L67.69,39.65 L58.12,21.8M279.67,209.88 L276.12,207.95 L272.51,205.98 L268.85,203.95 L265.13,201.88 L261.36,199.74 L257.53,197.55 L253.64,195.3 L249.68,192.98 L245.65,190.59 L241.56,188.13 L237.39,185.59 L233.15,182.97 L228.82,180.26 L224.41,177.45 L219.91,174.54 L215.32,171.52 L210.63,168.39 L205.83,165.12 L200.93,161.72 L195.9,158.16 L190.76,154.44 L185.47,150.54 L180.05,146.43 L174.47,142.11 L168.73,137.54 L162.81,132.69 L156.69,127.53 L150.37,122.01 L143.82,116.08 L137.01,109.68 L129.93,102.72 L122.53,95.09 L114.79,86.67 L106.66,77.25 L98.09,66.57 L89.01,54.24 L79.36,39.65 L69.07,21.8M301.11,209.88 L297.41,207.95 L293.65,205.98 L289.84,203.95 L285.97,201.88 L282.04,199.74 L278.04,197.55 L273.99,195.3 L269.86,192.98 L265.66,190.59 L261.39,188.13 L257.05,185.59 L252.62,182.97 L248.11,180.26 L243.5,177.45 L238.81,174.54 L234.01,171.52 L229.11,168.39 L224.1,165.12 L218.98,161.72 L213.73,158.16 L208.34,154.44 L202.82,150.54 L197.14,146.43 L191.3,142.11 L185.28,137.54 L179.08,132.69 L172.67,127.53 L166.03,122.01 L159.15,116.08 L152,109.68 L144.55,102.72 L136.76,95.09 L128.6,86.67 L120.01,77.25 L110.94,66.57 L101.31,54.24 L91.03,39.65 L80.02,21.8M322.55,209.88 L318.7,207.95 L314.79,205.98 L310.83,203.95 L306.8,201.88 L302.71,199.74 L298.56,197.55 L294.34,195.3 L290.04,192.98 L285.67,190.59 L281.23,188.13 L276.7,185.59 L272.09,182.97 L267.39,180.26 L262.6,177.45 L257.7,174.54 L252.71,171.52 L247.6,168.39 L242.37,165.12 L237.03,161.72 L231.55,158.16 L225.93,154.44 L220.16,150.54 L214.23,146.43 L208.13,142.11 L201.84,137.54 L195.35,132.69 L188.64,127.53 L181.69,122.01 L174.49,116.08 L166.99,109.68 L159.17,102.72 L150.99,95.09 L142.4,86.67 L133.36,77.25 L123.79,66.57 L113.6,54.24 L102.7,39.65 L90.97,21.8M343.99,209.88 L339.99,207.95 L335.93,205.98 L331.81,203.95 L327.63,201.88 L323.39,199.74 L319.07,197.55 L314.68,195.3 L310.22,192.98 L305.68,190.59 L301.06,188.13 L296.36,185.59 L291.56,182.97 L286.68,180.26 L281.69,177.45 L276.6,174.54 L271.4,171.52 L266.08,168.39 L260.64,165.12 L255.08,161.72 L249.37,158.16 L243.51,154.44 L237.5,150.54 L231.32,146.43 L224.96,142.11 L218.4,137.54 L211.62,132.69 L204.62,127.53 L197.36,122.01 L189.82,116.08 L181.97,109.68 L173.79,102.72 L165.21,95.09 L156.21,86.67 L146.71,77.25 L136.64,66.57 L125.9,54.24 L114.38,39.65 L101.92,21.8M365.43,209.88 L361.28,207.95 L357.07,205.98 L352.8,203.95 L348.47,201.88 L344.06,199.74 L339.59,197.55 L335.03,195.3 L330.41,192.98 L325.7,190.59 L320.9,188.13 L316.02,185.59 L311.04,182.97 L305.96,180.26 L300.78,177.45 L295.49,174.54 L290.09,171.52 L284.57,168.39 L278.91,165.12 L273.13,161.72 L267.19,158.16 L261.1,154.44 L254.84,150.54 L248.41,146.43 L241.78,142.11 L234.95,137.54 L227.89,132.69 L220.59,127.53 L213.02,122.01 L205.15,116.08 L196.96,109.68 L188.41,102.72 L179.44,95.09 L170.01,86.67 L160.06,77.25 L149.49,66.57 L138.19,54.24 L126.05,39.65 L112.87,21.8M386.86,209.88 L382.57,207.95 L378.21,205.98 L373.79,203.95 L369.3,201.88 L364.74,199.74 L360.1,197.55 L355.38,195.3 L350.59,192.98 L345.71,190.59 L340.74,188.13 L335.67,185.59 L330.51,182.97 L325.25,180.26 L319.88,177.45 L314.39,174.54 L308.78,171.52 L303.05,168.39 L297.18,165.12 L291.17,161.72 L285.01,158.16 L278.69,154.44 L272.19,150.54 L265.5,146.43 L258.61,142.11 L251.51,137.54 L244.17,132.69 L236.57,127.53 L228.68,122.01 L220.49,116.08 L211.95,109.68 L203.03,102.72 L193.67,95.09 L183.82,86.67 L173.41,77.25 L162.33,66.57 L150.49,54.24 L137.72,39.65 L123.82,21.8M408.3,209.88 L403.86,207.95 L399.36,205.98 L394.78,203.95 L390.13,201.88 L385.41,199.74 L380.61,197.55 L375.73,195.3 L370.77,192.98 L365.72,190.59 L360.57,188.13 L355.33,185.59 L349.98,182.97 L344.53,180.26 L338.97,177.45 L333.29,174.54 L327.48,171.52 L321.54,168.39 L315.46,165.12 L309.22,161.72 L302.83,158.16 L296.27,154.44 L289.53,150.54 L282.59,146.43 L275.44,142.11 L268.06,137.54 L260.44,132.69 L252.54,127.53 L244.35,122.01 L235.82,116.08 L226.94,109.68 L217.65,102.72 L207.9,95.09 L197.62,86.67 L186.75,77.25 L175.18,66.57 L162.78,54.24 L149.39,39.65 L134.77,21.8M429.74,209.88 L425.15,207.95 L420.5,205.98 L415.77,203.95 L410.97,201.88 L406.09,199.74 L401.13,197.55 L396.08,195.3 L390.95,192.98 L385.73,190.59 L380.41,188.13 L374.98,185.59 L369.46,182.97 L363.82,180.26 L358.06,177.45 L352.18,174.54 L346.17,171.52 L340.02,168.39 L333.73,165.12 L327.27,161.72 L320.66,158.16 L313.86,154.44 L306.87,150.54 L299.68,146.43 L292.27,142.11 L284.62,137.54 L276.71,132.69 L268.51,127.53 L260.01,122.01 L251.16,116.08 L241.93,109.68 L232.27,102.72 L222.12,95.09 L211.43,86.67 L200.1,77.25 L188.03,66.57 L175.08,54.24 L161.06,39.65 L145.72,21.8M451.18,209.88 L446.44,207.95 L441.64,205.98 L436.76,203.95 L431.8,201.88 L426.76,199.74 L421.64,197.55 L416.43,195.3 L411.13,192.98 L405.74,190.59 L400.24,188.13 L394.64,185.59 L388.93,182.97 L383.1,180.26 L377.15,177.45 L371.08,174.54 L364.86,171.52 L358.51,168.39 L352,165.12 L345.32,161.72 L338.48,158.16 L331.45,154.44 L324.22,150.54 L316.77,146.43 L309.1,142.11 L301.18,137.54 L292.98,132.69 L284.49,127.53 L275.67,122.01 L266.49,116.08 L256.91,109.68 L246.89,102.72 L236.35,95.09 L225.24,86.67 L213.45,77.25 L200.88,66.57 L187.38,54.24 L172.73,39.65 L156.67,21.8M472.61,209.88 L467.73,207.95 L462.78,205.98 L457.75,203.95 L452.63,201.88 L447.44,199.74 L442.16,197.55 L436.78,195.3 L431.31,192.98 L425.75,190.59 L420.08,188.13 L414.3,185.59 L408.4,182.97 L402.39,180.26 L396.25,177.45 L389.97,174.54 L383.56,171.52 L376.99,168.39 L370.27,165.12 L363.37,161.72 L356.3,158.16 L349.03,154.44 L341.56,150.54 L333.86,146.43 L325.93,142.11 L317.73,137.54 L309.25,132.69 L300.46,127.53 L291.33,122.01 L281.83,116.08 L271.9,109.68 L261.51,102.72 L250.58,95.09 L239.04,86.67 L226.8,77.25 L213.73,66.57 L199.67,54.24 L184.4,39.65 L167.62,21.8" stroke="#d7b68e" stroke-width="0.95"/>
<path d="M121.66,209.88 L120.95,207.95 L120.27,205.98 L119.55,203.95 L118.87,201.88 L118.12,199.74 L117.3,197.55 L116.28,195.3 L115.32,192.98 L114.29,190.59 L113.21,188.13 L111.94,185.59 L110.63,182.97 L109.26,180.26 L107.73,177.45 L106.04,174.54 L104.2,171.52 L102.22,168.39 L100.09,165.12 L97.84,161.72 L95.35,158.16 L92.64,154.44 L89.7,150.54 L86.45,146.43 L83.14,142.11 L79.55,137.54 L75.71,132.69 L71.64,127.53 L67.38,122.01 L62.86,116.08 L58.13,109.68 L53.27,102.72 L48.11,95.09 L45.99,91.83 L43.87,88.43M129.71,209.88 L129.25,207.95 L128.69,205.98 L128.22,203.95 L127.67,201.88 L127.04,199.74 L126.47,197.55 L125.69,195.3 L124.98,192.98 L124.2,190.59 L123.37,188.13 L122.35,185.59 L121.28,182.97 L120.16,180.26 L119,177.45 L117.69,174.54 L116.22,171.52 L114.6,168.39 L112.85,165.12 L110.85,161.72 L108.73,158.16 L106.39,154.44 L103.7,150.54 L100.94,146.43 L97.76,142.11 L94.29,137.54 L90.57,132.69 L86.62,127.53 L82.25,122.01 L77.73,116.08 L72.75,109.68 L67.64,102.72 L62.24,95.09 L59.99,91.83 L57.74,88.43M137.89,209.88 L137.54,207.95 L137.24,205.98 L136.89,203.95 L136.46,201.88 L136.08,199.74 L135.63,197.55 L135.11,195.3 L134.52,192.98 L133.99,190.59 L133.4,188.13 L132.63,185.59 L131.93,182.97 L131.06,180.26 L130.15,177.45 L129.21,174.54 L128.11,171.52 L126.87,168.39 L125.49,165.12 L123.98,161.72 L122.36,158.16 L120.51,154.44 L118.32,150.54 L115.93,146.43 L113.37,142.11 L110.4,137.54 L107.05,132.69 L103.22,127.53 L99.22,122.01 L94.7,116.08 L89.72,109.68 L84.36,102.72 L78.71,95.09 L76.34,91.83 L73.84,88.43M146.19,209.88 L145.97,207.95 L145.66,205.98 L145.44,203.95 L145.26,201.88 L144.88,199.74 L144.67,197.55 L144.4,195.3 L144.06,192.98 L143.65,190.59 L143.19,188.13 L142.79,185.59 L142.34,182.97 L141.84,180.26 L141.18,177.45 L140.48,174.54 L139.75,171.52 L139.01,168.39 L138,165.12 L136.99,161.72 L135.86,158.16 L134.51,154.44 L132.94,150.54 L131.17,146.43 L129.22,142.11 L126.87,137.54 L124.26,132.69 L121.06,127.53 L117.55,122.01 L113.52,116.08 L108.92,109.68 L103.69,102.72 L97.91,95.09 L95.54,91.83 L92.92,88.43M154.36,209.88 L154.27,207.95 L154.09,205.98 L153.99,203.95 L153.93,201.88 L153.8,199.74 L153.72,197.55 L153.57,195.3 L153.35,192.98 L153.19,190.59 L152.97,188.13 L152.7,185.59 L152.49,182.97 L152.25,180.26 L151.83,177.45 L151.51,174.54 L151.15,171.52 L150.65,168.39 L150.14,165.12 L149.5,161.72 L148.74,158.16 L148.01,154.44 L147.06,150.54 L145.91,146.43 L144.58,142.11 L143.1,137.54 L141.23,132.69 L139.02,127.53 L136.5,122.01 L133.34,116.08 L129.61,109.68 L125.24,102.72 L119.96,95.09 L117.59,91.83 L115.09,88.43M162.66,209.88 L162.57,207.95 L162.63,205.98 L162.53,203.95 L162.6,201.88 L162.59,199.74 L162.64,197.55 L162.61,195.3 L162.51,192.98 L162.48,190.59 L162.51,188.13 L162.48,185.59 L162.4,182.97 L162.28,180.26 L162.24,177.45 L162.16,174.54 L161.93,171.52 L161.8,168.39 L161.66,165.12 L161.39,161.72 L161.01,158.16 L160.64,154.44 L160.19,150.54 L159.66,146.43 L159.08,142.11 L158.21,137.54 L157.21,132.69 L155.99,127.53 L154.59,122.01 L152.67,116.08 L150.17,109.68 L147.16,102.72 L143.25,95.09 L141.5,91.83 L139.37,88.43M170.96,209.88 L170.99,207.95 L171.06,205.98 L171.08,203.95 L171.27,201.88 L171.39,199.74 L171.43,197.55 L171.53,195.3 L171.68,192.98 L171.77,190.59 L171.92,188.13 L172.02,185.59 L172.07,182.97 L172.19,180.26 L172.27,177.45 L172.32,174.54 L172.46,171.52 L172.45,168.39 L172.56,165.12 L172.66,161.72 L172.65,158.16 L172.66,154.44 L172.58,150.54 L172.54,146.43 L172.33,142.11 L172.21,137.54 L171.83,132.69 L171.48,127.53 L170.81,122.01 L170.13,116.08 L169,109.68 L167.48,102.72 L165.42,95.09 L164.41,91.83 L163.28,88.43" stroke="#1e1e1e" stroke-width="1.15"/>
<path d="M67.25,205.98L107.53,132.69M85.29,205.98L123.92,132.69M96.48,205.98L134.05,132.69M111.28,205.98L147.41,132.69M125.65,205.98L160.34,132.69M138.63,205.98L171.98,132.69M155.76,205.98L187.31,132.69" stroke="#2a2a2a" stroke-width="1.1" stroke-dasharray="1.8,1.2"/>
</g>
<polygon points="29,209.88 209.48,209.88 209.48,168.35 176.2,132.69 176.2,21.8 29,21.8" fill="none" stroke="#a8a8a8" stroke-width="0.9"/>
<text class="tn" transform="translate(179.8,41.98) rotate(-49)" y="1.5">-30</text>
<text class="tn" transform="translate(179.8,66.87) rotate(-49)" y="1.5">-20</text>
<text class="tn" transform="translate(179.8,91.76) rotate(-49)" y="1.5">-10</text>
<text class="tn" transform="translate(179.8,116.65) rotate(-49)" y="1.5">0</text>
<text class="tn" transform="translate(185.14,135.22) rotate(-49)" y="1.5">10</text>
<text class="tn" transform="translate(196.2,147.08) rotate(-49)" y="1.5">20</text>
<text class="tn" transform="translate(207.27,158.94) rotate(-49)" y="1.5">30</text>
<text x="38.02" y="27.8" class="tn">50</text>
<text x="48.97" y="27.8" class="tn">60</text>
<text x="59.92" y="27.8" class="tn">70</text>
<text x="70.87" y="27.8" class="tn">80</text>
<text x="81.82" y="27.8" class="tn">90</text>
<text x="32" y="36.7" class="tn">40</text>
<text x="32" y="62.7" class="tn">30</text>
<text x="32" y="87.1" class="tn">20</text>
<text x="32" y="110.4" class="tn">10</text>
<text x="32" y="133.2" class="tn">0</text>
<text x="32" y="155.5" class="tn">-10</text>
<text x="32" y="177.7" class="tn">-20</text>
<text x="32" y="199.9" class="tn">-30</text>
<text x="43.47" y="87.93" class="ml">8</text>
<text x="57.34" y="87.93" class="ml">12</text>
<text x="73.44" y="87.93" class="ml">16</text>
<text x="92.52" y="87.93" class="ml">20</text>
<text x="114.69" y="87.93" class="ml">24</text>
<text x="138.97" y="87.93" class="ml">28</text>
<text x="162.88" y="87.93" class="ml">32</text>
<text x="65.75" y="208.18" class="mr">1</text>
<text x="83.79" y="208.18" class="mr">2</text>
<text x="94.98" y="208.18" class="mr">3</text>
<text x="109.78" y="208.18" class="mr">5</text>
<text x="124.15" y="208.18" class="mr">8</text>
<text x="137.13" y="208.18" class="mr">12</text>
<text x="154.26" y="208.18" class="mr">20</text>
<text x="24.4" y="24.25" class="pl" textLength="10.65" lengthAdjust="spacingAndGlyphs">100</text>
<text x="24.4" y="56.69" class="pl" textLength="10.65" lengthAdjust="spacingAndGlyphs">150</text>
<text x="24.4" y="79.7" class="pl" textLength="10.65" lengthAdjust="spacingAndGlyphs">200</text>
<text x="24.4" y="97.54" class="pl" textLength="10.65" lengthAdjust="spacingAndGlyphs">250</text>
<text x="24.4" y="112.13" class="pl" textLength="10.65" lengthAdjust="spacingAndGlyphs">300</text>
<text x="24.4" y="135.14" class="pl" textLength="10.65" lengthAdjust="spacingAndGlyphs">400</text>
<text x="24.4" y="152.99" class="pl" textLength="10.65" lengthAdjust="spacingAndGlyphs">500</text>
<text x="24.4" y="179.9" class="pl" textLength="10.65" lengthAdjust="spacingAndGlyphs">700</text>
<text x="24.4" y="195.43" class="pl" textLength="10.65" lengthAdjust="spacingAndGlyphs">850</text>
<text x="24.4" y="208.43" class="pl" textLength="14.2" lengthAdjust="spacingAndGlyphs">1000</text>
<text x="40" y="24.05" class="hl">16,791</text>
<text x="40" y="56.49" class="hl">14,248</text>
<text x="40" y="79.5" class="hl">12,343</text>
<text x="40" y="97.34" class="hl">10,896</text>
<text x="40" y="111.93" class="hl">9520</text>
<text x="40" y="134.94" class="hl">7455</text>
<text x="40" y="152.79" class="hl">5773</text>
<text x="40" y="179.7" class="hl">3087</text>
<text x="40" y="195.23" class="hl">1453</text>
<text x="40" y="208.23" class="hl">71</text>
<text x="36.64" y="221.8" class="tl">-30</text>
<text x="57.78" y="221.8" class="tl">-20</text>
<text x="78.93" y="221.8" class="tl">-10</text>
<text x="100.07" y="221.8" class="tl">0</text>
<text x="121.21" y="221.8" class="tl">10</text>
<text x="142.35" y="221.8" class="tl">20</text>
<text x="163.49" y="221.8" class="tl">30</text>
<text x="184.63" y="221.8" class="tl">40</text>
<path d="M36.64,210.18v2.6M57.78,210.18v2.6M78.93,210.18v2.6M100.07,210.18v2.6M121.21,210.18v2.6M142.35,210.18v2.6M163.49,210.18v2.6M184.63,210.18v2.6" stroke="#333" stroke-width="0.9"/>
<text x="124.7" y="232.6" class="al" textLength="56" lengthAdjust="spacingAndGlyphs">Temperature (<tspan font-size="4.5" dy="-2.8">o</tspan><tspan dy="2.8">C)</tspan></text>
<text transform="translate(9.2,120.6) rotate(-90)" class="al">P (hPa)</text>
<path d="M219.6,21.8V208.53" stroke="#666" stroke-width="0.8"/>
<text x="226.2" y="209.58" class="hz" textLength="3.3" lengthAdjust="spacingAndGlyphs">0</text>
<text x="226.2" y="199.99" class="hz" textLength="3.3" lengthAdjust="spacingAndGlyphs">1</text>
<text x="226.2" y="190.17" class="hz" textLength="3.3" lengthAdjust="spacingAndGlyphs">2</text>
<text x="226.2" y="180.12" class="hz" textLength="3.3" lengthAdjust="spacingAndGlyphs">3</text>
<text x="226.2" y="169.83" class="hz" textLength="3.3" lengthAdjust="spacingAndGlyphs">4</text>
<text x="226.2" y="159.27" class="hz" textLength="3.3" lengthAdjust="spacingAndGlyphs">5</text>
<text x="226.2" y="148.44" class="hz" textLength="3.3" lengthAdjust="spacingAndGlyphs">6</text>
<text x="226.2" y="137.33" class="hz" textLength="3.3" lengthAdjust="spacingAndGlyphs">7</text>
<text x="226.2" y="125.92" class="hz" textLength="3.3" lengthAdjust="spacingAndGlyphs">8</text>
<text x="226.2" y="114.18" class="hz" textLength="3.3" lengthAdjust="spacingAndGlyphs">9</text>
<text x="226.2" y="102.11" class="hz" textLength="6.6" lengthAdjust="spacingAndGlyphs">10</text>
<text x="226.2" y="89.68" class="hz" textLength="6.6" lengthAdjust="spacingAndGlyphs">11</text>
<text x="226.2" y="77.07" class="hz" textLength="6.6" lengthAdjust="spacingAndGlyphs">12</text>
<text x="226.2" y="64.46" class="hz" textLength="6.6" lengthAdjust="spacingAndGlyphs">13</text>
<text x="226.2" y="51.85" class="hz" textLength="6.6" lengthAdjust="spacingAndGlyphs">14</text>
<text x="226.2" y="39.23" class="hz" textLength="6.6" lengthAdjust="spacingAndGlyphs">15</text>
<text x="226.2" y="26.62" class="hz" textLength="6.6" lengthAdjust="spacingAndGlyphs">16</text>
<path d="M219.6,207.03h2.3M219.6,197.44h2.3M219.6,187.62h2.3M219.6,177.57h2.3M219.6,167.28h2.3M219.6,156.72h2.3M219.6,145.89h2.3M219.6,134.78h2.3M219.6,123.37h2.3M219.6,111.63h2.3M219.6,99.56h2.3M219.6,87.13h2.3M219.6,74.52h2.3M219.6,61.91h2.3M219.6,49.3h2.3M219.6,36.68h2.3M219.6,24.07h2.3" stroke="#444" stroke-width="0.9"/>
<text transform="translate(212.3,123) rotate(90)" class="hk" textLength="35" lengthAdjust="spacingAndGlyphs">Height (Km)</text><path d="M198,22.3V206.48" stroke="#1a1a1a" stroke-width="1"/>
<path d="M198,22.7L190,22.7M190,22.7l-0.5,1.2M198,54.4L190,57.9M190,57.9l-1.3,-1.9M198,78.1L190,81.4M190,81.4l-1.3,-1.9M198,95.4L190,99M190,99l-1.3,-1.9M198,109.4L190,110.4M190,110.4l-1.3,-1.9M198,122.5L190,124.9M190,124.9l-1.3,-1.9M198,132.9L190,136.1M190,136.1l-1.3,-1.9M198,142.4L190,146.7M190,146.7l-1.3,-1.9M198,150.6L190,153.8M190,153.8l-1.3,-1.9M198,158L190,160.9M190,160.9l-1.3,-1.9M198,165.6L190,168.6M190,168.6l-1.3,-1.9M198,172.7L190,175.7M190,175.7l-1.3,-1.9" stroke="#151515" stroke-width="1.05" fill="none" stroke-linecap="round"/>
<path d="M198,177.7L204.5,182.2l0.2,1.6M198,183L204.5,187.5l0.2,1.6M198,187.9L204.5,192.4l0.2,1.6M198,193.2L204.5,197.7l0.2,1.6M198,198.1L203.8,201.6l0.2,1.6M198,200L203.8,203.5l0.2,1.6M198,202L203.8,205.5l0.2,1.6M198,204L203.8,207.5l0.2,1.6M198,206L203.8,209.5l0.2,1.6" stroke="#333" stroke-width="0.85" fill="none"/>
<path d="M189.7,22.5h0.01M189.7,57.7h0.01M189.7,81.2h0.01M189.7,98.8h0.01M189.7,110.2h0.01M189.7,124.7h0.01M189.7,135.9h0.01M189.7,146.5h0.01M189.7,153.6h0.01M189.7,160.7h0.01M189.7,168.4h0.01M189.7,175.5h0.01" stroke="#151515" stroke-width="1.8" stroke-linecap="round"/>
<path d="M197,22.7h2M197,54.4h2M197,78.1h2M197,95.4h2M197,109.4h2M197,122.5h2M197,132.9h2M197,142.4h2M197,150.6h2M197,158h2M197,165.6h2M197,172.7h2M197,177.7h2M197,183h2M197,187.9h2M197,193.2h2M197,198.1h2M197,200h2M197,202h2M197,204h2M197,206h2" stroke="#111" stroke-width="1.4"/></g>
<path d="M377.2,109.3 L383,120 L389.4,131.5 L394.4,144.3 L398,157.2 L399.3,162.3 L402.3,183.1" fill="none" stroke="#f01818" stroke-width="1.7" stroke-linejoin="round"/>
<path d="M334.6,21.1 L301.2,77.3 L313.5,94.1 L330,103.6 L341.4,110 L357.5,117.2 L365,121.5 L370.8,132.9 L377.2,145.8 L383,157.2 L383.3,159.8 L386.4,175.8 L385.2,181.9 L385.8,188 L390.1,196.6 L395,205.2" fill="none" stroke="#0000ff" stroke-width="1.8" stroke-linejoin="round"/>
<path d="M374.3,21.4 L373.8,38.4 L371.8,53.8 L377.9,77.3 L375.9,95.7 L372.9,100 L367.9,107.9 L366.5,114.3 L365.8,120.7 L372.9,132.9 L379.4,147.2 L383.5,158 L391.9,171.5 L395,177.6 L402.3,185 L406.6,190.5 L415.2,205.2" fill="none" stroke="#000" stroke-width="1.7" stroke-linejoin="round"/>
<g transform="translate(250.3,-0.4)"><rect x="92.6" y="22.6" width="83" height="16.5" fill="#fff" stroke="#8c8c8c" stroke-width="0.9"/><text x="94.1" y="34" class="bx">(</text><text x="99.4" y="34.8" class="bx">b</text><text x="106.6" y="34" class="bx">)</text><text x="118.6" y="34.8" class="bx" textLength="54.4" lengthAdjust="spacingAndGlyphs">0600 UTC</text></g>
<g transform="translate(138.5,239)"><clipPath id="cc"><polygon points="29,209.88 209.48,209.88 209.48,168.35 176.2,132.69 176.2,21.8 29,21.8"/></clipPath>
<g clip-path="url(#cc)" fill="none">
<path d="M29,21.8H176.2M29,54.24H176.2M29,77.25H176.2M29,95.09H176.2M29,109.68H176.2M29,132.69H176.2M29,150.54H192.86M29,177.45H209.48M29,192.98H209.48M29,199.74H209.48M29,205.98H209.48" stroke="#deb584" stroke-width="1"/>
<path d="M-153.63,209.88L6.14,21.8M-132.48,209.88L27.28,21.8M-111.34,209.88L48.42,21.8M-90.2,209.88L69.56,21.8M-69.06,209.88L90.7,21.8M-47.92,209.88L111.84,21.8M-26.78,209.88L132.98,21.8M-5.64,209.88L154.12,21.8M15.5,209.88L175.26,21.8M36.64,209.88L196.4,21.8M57.78,209.88L217.55,21.8M78.93,209.88L238.69,21.8M100.07,209.88L259.83,21.8M121.21,209.88L280.97,21.8M142.35,209.88L302.11,21.8M163.49,209.88L323.25,21.8M184.63,209.88L344.39,21.8M205.77,209.88L365.53,21.8M43.86,209.88 L41.92,207.95 L39.96,205.98 L37.97,203.95 L35.97,201.88 L33.93,199.74 L31.87,197.55 L29.79,195.3 L27.68,192.98 L25.54,190.59 L23.37,188.13 L21.17,185.59 L18.94,182.97 L16.68,180.26 L14.39,177.45 L12.06,174.54 L9.7,171.52 L7.3,168.39 L4.86,165.12 L2.38,161.72 L-0.13,158.16 L-2.69,154.44 L-5.3,150.54 L-7.95,146.43 L-10.64,142.11 L-13.39,137.54 L-16.18,132.69 L-19.03,127.53 L-21.92,122.01 L-24.86,116.08 L-27.86,109.68 L-30.89,102.72 L-33.96,95.09 L-37.06,86.67 L-40.17,77.25 L-43.25,66.57 L-46.23,54.24 L-49.02,39.65 L-51.39,21.8M65.3,209.88 L63.21,207.95 L61.1,205.98 L58.96,203.95 L56.8,201.88 L54.61,199.74 L52.39,197.55 L50.14,195.3 L47.86,192.98 L45.55,190.59 L43.21,188.13 L40.83,185.59 L38.42,182.97 L35.97,180.26 L33.48,177.45 L30.96,174.54 L28.39,171.52 L25.78,168.39 L23.13,165.12 L20.43,161.72 L17.69,158.16 L14.89,154.44 L12.04,150.54 L9.14,146.43 L6.18,142.11 L3.17,137.54 L0.09,132.69 L-3.05,127.53 L-6.26,122.01 L-9.53,116.08 L-12.87,109.68 L-16.27,102.72 L-19.74,95.09 L-23.26,86.67 L-26.82,77.25 L-30.4,66.57 L-33.94,54.24 L-37.35,39.65 L-40.44,21.8M86.73,209.88 L84.5,207.95 L82.24,205.98 L79.95,203.95 L77.63,201.88 L75.28,199.74 L72.9,197.55 L70.49,195.3 L68.04,192.98 L65.56,190.59 L63.04,188.13 L60.49,185.59 L57.89,182.97 L55.25,180.26 L52.58,177.45 L49.85,174.54 L47.08,171.52 L44.27,168.39 L41.4,165.12 L38.48,161.72 L35.51,158.16 L32.48,154.44 L29.39,150.54 L26.23,146.43 L23.01,142.11 L19.72,137.54 L16.36,132.69 L12.92,127.53 L9.41,122.01 L5.81,116.08 L2.12,109.68 L-1.65,102.72 L-5.51,95.09 L-9.45,86.67 L-13.47,77.25 L-17.55,66.57 L-21.64,54.24 L-25.68,39.65 L-29.49,21.8M108.17,209.88 L105.79,207.95 L103.38,205.98 L100.94,203.95 L98.47,201.88 L95.96,199.74 L93.42,197.55 L90.84,195.3 L88.22,192.98 L85.57,190.59 L82.88,188.13 L80.14,185.59 L77.36,182.97 L74.54,180.26 L71.67,177.45 L68.75,174.54 L65.78,171.52 L62.75,168.39 L59.67,165.12 L56.53,161.72 L53.33,158.16 L50.06,154.44 L46.73,150.54 L43.32,146.43 L39.84,142.11 L36.28,137.54 L32.63,132.69 L28.9,127.53 L25.07,122.01 L21.14,116.08 L17.11,109.68 L12.97,102.72 L8.72,95.09 L4.35,86.67 L-0.12,77.25 L-4.7,66.57 L-9.35,54.24 L-14.01,39.65 L-18.54,21.8M129.61,209.88 L127.08,207.95 L124.52,205.98 L121.93,203.95 L119.3,201.88 L116.63,199.74 L113.93,197.55 L111.19,195.3 L108.41,192.98 L105.58,190.59 L102.71,188.13 L99.8,185.59 L96.84,182.97 L93.82,180.26 L90.76,177.45 L87.64,174.54 L84.47,171.52 L81.24,168.39 L77.94,165.12 L74.58,161.72 L71.15,158.16 L67.65,154.44 L64.07,150.54 L60.41,146.43 L56.67,142.11 L52.83,137.54 L48.9,132.69 L44.87,127.53 L40.73,122.01 L36.47,116.08 L32.1,109.68 L27.59,102.72 L22.94,95.09 L18.16,86.67 L13.22,77.25 L8.15,66.57 L2.95,54.24 L-2.34,39.65 L-7.58,21.8M151.05,209.88 L148.37,207.95 L145.66,205.98 L142.92,203.95 L140.13,201.88 L137.31,199.74 L134.44,197.55 L131.54,195.3 L128.59,192.98 L125.59,190.59 L122.55,188.13 L119.45,185.59 L116.31,182.97 L113.11,180.26 L109.85,177.45 L106.54,174.54 L103.16,171.52 L99.72,168.39 L96.21,165.12 L92.63,161.72 L88.97,158.16 L85.24,154.44 L81.42,150.54 L77.5,146.43 L73.5,142.11 L69.39,137.54 L65.18,132.69 L60.85,127.53 L56.39,122.01 L51.81,116.08 L47.08,109.68 L42.21,102.72 L37.17,95.09 L31.96,86.67 L26.57,77.25 L21,66.57 L15.24,54.24 L9.34,39.65 L3.37,21.8M172.49,209.88 L169.66,207.95 L166.8,205.98 L163.91,203.95 L160.97,201.88 L157.98,199.74 L154.96,197.55 L151.89,195.3 L148.77,192.98 L145.6,190.59 L142.38,188.13 L139.11,185.59 L135.78,182.97 L132.39,180.26 L128.95,177.45 L125.44,174.54 L121.86,171.52 L118.21,168.39 L114.48,165.12 L110.68,161.72 L106.8,158.16 L102.82,154.44 L98.76,150.54 L94.59,146.43 L90.33,142.11 L85.95,137.54 L81.45,132.69 L76.82,127.53 L72.06,122.01 L67.14,116.08 L62.07,109.68 L56.83,102.72 L51.4,95.09 L45.77,86.67 L39.92,77.25 L33.85,66.57 L27.54,54.24 L21.01,39.65 L14.32,21.8M193.92,209.88 L190.95,207.95 L187.95,205.98 L184.89,203.95 L181.8,201.88 L178.66,199.74 L175.47,197.55 L172.24,195.3 L168.95,192.98 L165.61,190.59 L162.22,188.13 L158.77,185.59 L155.25,182.97 L151.68,180.26 L148.04,177.45 L144.33,174.54 L140.55,171.52 L136.69,168.39 L132.75,165.12 L128.73,161.72 L124.62,158.16 L120.41,154.44 L116.1,150.54 L111.69,146.43 L107.16,142.11 L102.5,137.54 L97.72,132.69 L92.8,127.53 L87.72,122.01 L82.48,116.08 L77.06,109.68 L71.45,102.72 L65.63,95.09 L59.57,86.67 L53.27,77.25 L46.7,66.57 L39.83,54.24 L32.68,39.65 L25.27,21.8M215.36,209.88 L212.25,207.95 L209.09,205.98 L205.88,203.95 L202.63,201.88 L199.33,199.74 L195.99,197.55 L192.59,195.3 L189.13,192.98 L185.62,190.59 L182.05,188.13 L178.42,185.59 L174.73,182.97 L170.97,180.26 L167.13,177.45 L163.23,174.54 L159.24,171.52 L155.18,168.39 L151.02,165.12 L146.78,161.72 L142.44,158.16 L138,154.44 L133.44,150.54 L128.78,146.43 L123.98,142.11 L119.06,137.54 L113.99,132.69 L108.77,127.53 L103.38,122.01 L97.81,116.08 L92.05,109.68 L86.07,102.72 L79.85,95.09 L73.38,86.67 L66.62,77.25 L59.54,66.57 L52.13,54.24 L44.35,39.65 L36.22,21.8M236.8,209.88 L233.54,207.95 L230.23,205.98 L226.87,203.95 L223.47,201.88 L220.01,199.74 L216.5,197.55 L212.94,195.3 L209.31,192.98 L205.63,190.59 L201.89,188.13 L198.08,185.59 L194.2,182.97 L190.25,180.26 L186.23,177.45 L182.12,174.54 L177.93,171.52 L173.66,168.39 L169.29,165.12 L164.83,161.72 L160.26,158.16 L155.58,154.44 L150.79,150.54 L145.87,146.43 L140.81,142.11 L135.62,137.54 L130.26,132.69 L124.74,127.53 L119.04,122.01 L113.15,116.08 L107.04,109.68 L100.69,102.72 L94.08,95.09 L87.18,86.67 L79.97,77.25 L72.39,66.57 L64.42,54.24 L56.02,39.65 L47.17,21.8M258.24,209.88 L254.83,207.95 L251.37,205.98 L247.86,203.95 L244.3,201.88 L240.69,199.74 L237.02,197.55 L233.29,195.3 L229.5,192.98 L225.64,190.59 L221.72,188.13 L217.73,185.59 L213.67,182.97 L209.54,180.26 L205.32,177.45 L201.02,174.54 L196.63,171.52 L192.14,168.39 L187.56,165.12 L182.88,161.72 L178.08,158.16 L173.17,154.44 L168.13,150.54 L162.96,146.43 L157.64,142.11 L152.17,137.54 L146.53,132.69 L140.72,127.53 L134.71,122.01 L128.48,116.08 L122.02,109.68 L115.31,102.72 L108.31,95.09 L100.99,86.67 L93.31,77.25 L85.24,66.57 L76.72,54.24 L67.69,39.65 L58.12,21.8M279.67,209.88 L276.12,207.95 L272.51,205.98 L268.85,203.95 L265.13,201.88 L261.36,199.74 L257.53,197.55 L253.64,195.3 L249.68,192.98 L245.65,190.59 L241.56,188.13 L237.39,185.59 L233.15,182.97 L228.82,180.26 L224.41,177.45 L219.91,174.54 L215.32,171.52 L210.63,168.39 L205.83,165.12 L200.93,161.72 L195.9,158.16 L190.76,154.44 L185.47,150.54 L180.05,146.43 L174.47,142.11 L168.73,137.54 L162.81,132.69 L156.69,127.53 L150.37,122.01 L143.82,116.08 L137.01,109.68 L129.93,102.72 L122.53,95.09 L114.79,86.67 L106.66,77.25 L98.09,66.57 L89.01,54.24 L79.36,39.65 L69.07,21.8M301.11,209.88 L297.41,207.95 L293.65,205.98 L289.84,203.95 L285.97,201.88 L282.04,199.74 L278.04,197.55 L273.99,195.3 L269.86,192.98 L265.66,190.59 L261.39,188.13 L257.05,185.59 L252.62,182.97 L248.11,180.26 L243.5,177.45 L238.81,174.54 L234.01,171.52 L229.11,168.39 L224.1,165.12 L218.98,161.72 L213.73,158.16 L208.34,154.44 L202.82,150.54 L197.14,146.43 L191.3,142.11 L185.28,137.54 L179.08,132.69 L172.67,127.53 L166.03,122.01 L159.15,116.08 L152,109.68 L144.55,102.72 L136.76,95.09 L128.6,86.67 L120.01,77.25 L110.94,66.57 L101.31,54.24 L91.03,39.65 L80.02,21.8M322.55,209.88 L318.7,207.95 L314.79,205.98 L310.83,203.95 L306.8,201.88 L302.71,199.74 L298.56,197.55 L294.34,195.3 L290.04,192.98 L285.67,190.59 L281.23,188.13 L276.7,185.59 L272.09,182.97 L267.39,180.26 L262.6,177.45 L257.7,174.54 L252.71,171.52 L247.6,168.39 L242.37,165.12 L237.03,161.72 L231.55,158.16 L225.93,154.44 L220.16,150.54 L214.23,146.43 L208.13,142.11 L201.84,137.54 L195.35,132.69 L188.64,127.53 L181.69,122.01 L174.49,116.08 L166.99,109.68 L159.17,102.72 L150.99,95.09 L142.4,86.67 L133.36,77.25 L123.79,66.57 L113.6,54.24 L102.7,39.65 L90.97,21.8M343.99,209.88 L339.99,207.95 L335.93,205.98 L331.81,203.95 L327.63,201.88 L323.39,199.74 L319.07,197.55 L314.68,195.3 L310.22,192.98 L305.68,190.59 L301.06,188.13 L296.36,185.59 L291.56,182.97 L286.68,180.26 L281.69,177.45 L276.6,174.54 L271.4,171.52 L266.08,168.39 L260.64,165.12 L255.08,161.72 L249.37,158.16 L243.51,154.44 L237.5,150.54 L231.32,146.43 L224.96,142.11 L218.4,137.54 L211.62,132.69 L204.62,127.53 L197.36,122.01 L189.82,116.08 L181.97,109.68 L173.79,102.72 L165.21,95.09 L156.21,86.67 L146.71,77.25 L136.64,66.57 L125.9,54.24 L114.38,39.65 L101.92,21.8M365.43,209.88 L361.28,207.95 L357.07,205.98 L352.8,203.95 L348.47,201.88 L344.06,199.74 L339.59,197.55 L335.03,195.3 L330.41,192.98 L325.7,190.59 L320.9,188.13 L316.02,185.59 L311.04,182.97 L305.96,180.26 L300.78,177.45 L295.49,174.54 L290.09,171.52 L284.57,168.39 L278.91,165.12 L273.13,161.72 L267.19,158.16 L261.1,154.44 L254.84,150.54 L248.41,146.43 L241.78,142.11 L234.95,137.54 L227.89,132.69 L220.59,127.53 L213.02,122.01 L205.15,116.08 L196.96,109.68 L188.41,102.72 L179.44,95.09 L170.01,86.67 L160.06,77.25 L149.49,66.57 L138.19,54.24 L126.05,39.65 L112.87,21.8M386.86,209.88 L382.57,207.95 L378.21,205.98 L373.79,203.95 L369.3,201.88 L364.74,199.74 L360.1,197.55 L355.38,195.3 L350.59,192.98 L345.71,190.59 L340.74,188.13 L335.67,185.59 L330.51,182.97 L325.25,180.26 L319.88,177.45 L314.39,174.54 L308.78,171.52 L303.05,168.39 L297.18,165.12 L291.17,161.72 L285.01,158.16 L278.69,154.44 L272.19,150.54 L265.5,146.43 L258.61,142.11 L251.51,137.54 L244.17,132.69 L236.57,127.53 L228.68,122.01 L220.49,116.08 L211.95,109.68 L203.03,102.72 L193.67,95.09 L183.82,86.67 L173.41,77.25 L162.33,66.57 L150.49,54.24 L137.72,39.65 L123.82,21.8M408.3,209.88 L403.86,207.95 L399.36,205.98 L394.78,203.95 L390.13,201.88 L385.41,199.74 L380.61,197.55 L375.73,195.3 L370.77,192.98 L365.72,190.59 L360.57,188.13 L355.33,185.59 L349.98,182.97 L344.53,180.26 L338.97,177.45 L333.29,174.54 L327.48,171.52 L321.54,168.39 L315.46,165.12 L309.22,161.72 L302.83,158.16 L296.27,154.44 L289.53,150.54 L282.59,146.43 L275.44,142.11 L268.06,137.54 L260.44,132.69 L252.54,127.53 L244.35,122.01 L235.82,116.08 L226.94,109.68 L217.65,102.72 L207.9,95.09 L197.62,86.67 L186.75,77.25 L175.18,66.57 L162.78,54.24 L149.39,39.65 L134.77,21.8M429.74,209.88 L425.15,207.95 L420.5,205.98 L415.77,203.95 L410.97,201.88 L406.09,199.74 L401.13,197.55 L396.08,195.3 L390.95,192.98 L385.73,190.59 L380.41,188.13 L374.98,185.59 L369.46,182.97 L363.82,180.26 L358.06,177.45 L352.18,174.54 L346.17,171.52 L340.02,168.39 L333.73,165.12 L327.27,161.72 L320.66,158.16 L313.86,154.44 L306.87,150.54 L299.68,146.43 L292.27,142.11 L284.62,137.54 L276.71,132.69 L268.51,127.53 L260.01,122.01 L251.16,116.08 L241.93,109.68 L232.27,102.72 L222.12,95.09 L211.43,86.67 L200.1,77.25 L188.03,66.57 L175.08,54.24 L161.06,39.65 L145.72,21.8M451.18,209.88 L446.44,207.95 L441.64,205.98 L436.76,203.95 L431.8,201.88 L426.76,199.74 L421.64,197.55 L416.43,195.3 L411.13,192.98 L405.74,190.59 L400.24,188.13 L394.64,185.59 L388.93,182.97 L383.1,180.26 L377.15,177.45 L371.08,174.54 L364.86,171.52 L358.51,168.39 L352,165.12 L345.32,161.72 L338.48,158.16 L331.45,154.44 L324.22,150.54 L316.77,146.43 L309.1,142.11 L301.18,137.54 L292.98,132.69 L284.49,127.53 L275.67,122.01 L266.49,116.08 L256.91,109.68 L246.89,102.72 L236.35,95.09 L225.24,86.67 L213.45,77.25 L200.88,66.57 L187.38,54.24 L172.73,39.65 L156.67,21.8M472.61,209.88 L467.73,207.95 L462.78,205.98 L457.75,203.95 L452.63,201.88 L447.44,199.74 L442.16,197.55 L436.78,195.3 L431.31,192.98 L425.75,190.59 L420.08,188.13 L414.3,185.59 L408.4,182.97 L402.39,180.26 L396.25,177.45 L389.97,174.54 L383.56,171.52 L376.99,168.39 L370.27,165.12 L363.37,161.72 L356.3,158.16 L349.03,154.44 L341.56,150.54 L333.86,146.43 L325.93,142.11 L317.73,137.54 L309.25,132.69 L300.46,127.53 L291.33,122.01 L281.83,116.08 L271.9,109.68 L261.51,102.72 L250.58,95.09 L239.04,86.67 L226.8,77.25 L213.73,66.57 L199.67,54.24 L184.4,39.65 L167.62,21.8" stroke="#d7b68e" stroke-width="0.95"/>
<path d="M121.66,209.88 L120.95,207.95 L120.27,205.98 L119.55,203.95 L118.87,201.88 L118.12,199.74 L117.3,197.55 L116.28,195.3 L115.32,192.98 L114.29,190.59 L113.21,188.13 L111.94,185.59 L110.63,182.97 L109.26,180.26 L107.73,177.45 L106.04,174.54 L104.2,171.52 L102.22,168.39 L100.09,165.12 L97.84,161.72 L95.35,158.16 L92.64,154.44 L89.7,150.54 L86.45,146.43 L83.14,142.11 L79.55,137.54 L75.71,132.69 L71.64,127.53 L67.38,122.01 L62.86,116.08 L58.13,109.68 L53.27,102.72 L48.11,95.09 L45.99,91.83 L43.87,88.43M129.71,209.88 L129.25,207.95 L128.69,205.98 L128.22,203.95 L127.67,201.88 L127.04,199.74 L126.47,197.55 L125.69,195.3 L124.98,192.98 L124.2,190.59 L123.37,188.13 L122.35,185.59 L121.28,182.97 L120.16,180.26 L119,177.45 L117.69,174.54 L116.22,171.52 L114.6,168.39 L112.85,165.12 L110.85,161.72 L108.73,158.16 L106.39,154.44 L103.7,150.54 L100.94,146.43 L97.76,142.11 L94.29,137.54 L90.57,132.69 L86.62,127.53 L82.25,122.01 L77.73,116.08 L72.75,109.68 L67.64,102.72 L62.24,95.09 L59.99,91.83 L57.74,88.43M137.89,209.88 L137.54,207.95 L137.24,205.98 L136.89,203.95 L136.46,201.88 L136.08,199.74 L135.63,197.55 L135.11,195.3 L134.52,192.98 L133.99,190.59 L133.4,188.13 L132.63,185.59 L131.93,182.97 L131.06,180.26 L130.15,177.45 L129.21,174.54 L128.11,171.52 L126.87,168.39 L125.49,165.12 L123.98,161.72 L122.36,158.16 L120.51,154.44 L118.32,150.54 L115.93,146.43 L113.37,142.11 L110.4,137.54 L107.05,132.69 L103.22,127.53 L99.22,122.01 L94.7,116.08 L89.72,109.68 L84.36,102.72 L78.71,95.09 L76.34,91.83 L73.84,88.43M146.19,209.88 L145.97,207.95 L145.66,205.98 L145.44,203.95 L145.26,201.88 L144.88,199.74 L144.67,197.55 L144.4,195.3 L144.06,192.98 L143.65,190.59 L143.19,188.13 L142.79,185.59 L142.34,182.97 L141.84,180.26 L141.18,177.45 L140.48,174.54 L139.75,171.52 L139.01,168.39 L138,165.12 L136.99,161.72 L135.86,158.16 L134.51,154.44 L132.94,150.54 L131.17,146.43 L129.22,142.11 L126.87,137.54 L124.26,132.69 L121.06,127.53 L117.55,122.01 L113.52,116.08 L108.92,109.68 L103.69,102.72 L97.91,95.09 L95.54,91.83 L92.92,88.43M154.36,209.88 L154.27,207.95 L154.09,205.98 L153.99,203.95 L153.93,201.88 L153.8,199.74 L153.72,197.55 L153.57,195.3 L153.35,192.98 L153.19,190.59 L152.97,188.13 L152.7,185.59 L152.49,182.97 L152.25,180.26 L151.83,177.45 L151.51,174.54 L151.15,171.52 L150.65,168.39 L150.14,165.12 L149.5,161.72 L148.74,158.16 L148.01,154.44 L147.06,150.54 L145.91,146.43 L144.58,142.11 L143.1,137.54 L141.23,132.69 L139.02,127.53 L136.5,122.01 L133.34,116.08 L129.61,109.68 L125.24,102.72 L119.96,95.09 L117.59,91.83 L115.09,88.43M162.66,209.88 L162.57,207.95 L162.63,205.98 L162.53,203.95 L162.6,201.88 L162.59,199.74 L162.64,197.55 L162.61,195.3 L162.51,192.98 L162.48,190.59 L162.51,188.13 L162.48,185.59 L162.4,182.97 L162.28,180.26 L162.24,177.45 L162.16,174.54 L161.93,171.52 L161.8,168.39 L161.66,165.12 L161.39,161.72 L161.01,158.16 L160.64,154.44 L160.19,150.54 L159.66,146.43 L159.08,142.11 L158.21,137.54 L157.21,132.69 L155.99,127.53 L154.59,122.01 L152.67,116.08 L150.17,109.68 L147.16,102.72 L143.25,95.09 L141.5,91.83 L139.37,88.43M170.96,209.88 L170.99,207.95 L171.06,205.98 L171.08,203.95 L171.27,201.88 L171.39,199.74 L171.43,197.55 L171.53,195.3 L171.68,192.98 L171.77,190.59 L171.92,188.13 L172.02,185.59 L172.07,182.97 L172.19,180.26 L172.27,177.45 L172.32,174.54 L172.46,171.52 L172.45,168.39 L172.56,165.12 L172.66,161.72 L172.65,158.16 L172.66,154.44 L172.58,150.54 L172.54,146.43 L172.33,142.11 L172.21,137.54 L171.83,132.69 L171.48,127.53 L170.81,122.01 L170.13,116.08 L169,109.68 L167.48,102.72 L165.42,95.09 L164.41,91.83 L163.28,88.43" stroke="#1e1e1e" stroke-width="1.15"/>
<path d="M67.25,205.98L107.53,132.69M85.29,205.98L123.92,132.69M96.48,205.98L134.05,132.69M111.28,205.98L147.41,132.69M125.65,205.98L160.34,132.69M138.63,205.98L171.98,132.69M155.76,205.98L187.31,132.69" stroke="#2a2a2a" stroke-width="1.1" stroke-dasharray="1.8,1.2"/>
</g>
<polygon points="29,209.88 209.48,209.88 209.48,168.35 176.2,132.69 176.2,21.8 29,21.8" fill="none" stroke="#a8a8a8" stroke-width="0.9"/>
<text class="tn" transform="translate(179.8,41.98) rotate(-49)" y="1.5">-30</text>
<text class="tn" transform="translate(179.8,66.87) rotate(-49)" y="1.5">-20</text>
<text class="tn" transform="translate(179.8,91.76) rotate(-49)" y="1.5">-10</text>
<text class="tn" transform="translate(179.8,116.65) rotate(-49)" y="1.5">0</text>
<text class="tn" transform="translate(185.14,135.22) rotate(-49)" y="1.5">10</text>
<text class="tn" transform="translate(196.2,147.08) rotate(-49)" y="1.5">20</text>
<text class="tn" transform="translate(207.27,158.94) rotate(-49)" y="1.5">30</text>
<text x="38.02" y="27.8" class="tn">50</text>
<text x="48.97" y="27.8" class="tn">60</text>
<text x="59.92" y="27.8" class="tn">70</text>
<text x="70.87" y="27.8" class="tn">80</text>
<text x="81.82" y="27.8" class="tn">90</text>
<text x="32" y="36.7" class="tn">40</text>
<text x="32" y="62.7" class="tn">30</text>
<text x="32" y="87.1" class="tn">20</text>
<text x="32" y="110.4" class="tn">10</text>
<text x="32" y="133.2" class="tn">0</text>
<text x="32" y="155.5" class="tn">-10</text>
<text x="32" y="177.7" class="tn">-20</text>
<text x="32" y="199.9" class="tn">-30</text>
<text x="43.47" y="87.93" class="ml">8</text>
<text x="57.34" y="87.93" class="ml">12</text>
<text x="73.44" y="87.93" class="ml">16</text>
<text x="92.52" y="87.93" class="ml">20</text>
<text x="114.69" y="87.93" class="ml">24</text>
<text x="138.97" y="87.93" class="ml">28</text>
<text x="162.88" y="87.93" class="ml">32</text>
<text x="65.75" y="208.18" class="mr">1</text>
<text x="83.79" y="208.18" class="mr">2</text>
<text x="94.98" y="208.18" class="mr">3</text>
<text x="109.78" y="208.18" class="mr">5</text>
<text x="124.15" y="208.18" class="mr">8</text>
<text x="137.13" y="208.18" class="mr">12</text>
<text x="154.26" y="208.18" class="mr">20</text>
<text x="24.4" y="24.25" class="pl" textLength="10.65" lengthAdjust="spacingAndGlyphs">100</text>
<text x="24.4" y="56.69" class="pl" textLength="10.65" lengthAdjust="spacingAndGlyphs">150</text>
<text x="24.4" y="79.7" class="pl" textLength="10.65" lengthAdjust="spacingAndGlyphs">200</text>
<text x="24.4" y="97.54" class="pl" textLength="10.65" lengthAdjust="spacingAndGlyphs">250</text>
<text x="24.4" y="112.13" class="pl" textLength="10.65" lengthAdjust="spacingAndGlyphs">300</text>
<text x="24.4" y="135.14" class="pl" textLength="10.65" lengthAdjust="spacingAndGlyphs">400</text>
<text x="24.4" y="152.99" class="pl" textLength="10.65" lengthAdjust="spacingAndGlyphs">500</text>
<text x="24.4" y="179.9" class="pl" textLength="10.65" lengthAdjust="spacingAndGlyphs">700</text>
<text x="24.4" y="195.43" class="pl" textLength="10.65" lengthAdjust="spacingAndGlyphs">850</text>
<text x="24.4" y="202.19" class="pl" textLength="10.65" lengthAdjust="spacingAndGlyphs">925</text>
<text x="24.4" y="208.43" class="pl" textLength="14.2" lengthAdjust="spacingAndGlyphs">1000</text>
<text x="40" y="24.05" class="hl">1684</text>
<text x="40" y="56.49" class="hl">1429</text>
<text x="40" y="79.5" class="hl">1239</text>
<text x="40" y="97.34" class="hl">1085</text>
<text x="40" y="111.93" class="hl">955</text>
<text x="40" y="134.94" class="hl">747</text>
<text x="40" y="152.79" class="hl">577</text>
<text x="40" y="179.7" class="hl">307</text>
<text x="40" y="195.23" class="hl">144</text>
<text x="36.64" y="221.2" class="tl">-30</text>
<text x="57.78" y="221.2" class="tl">-20</text>
<text x="78.93" y="221.2" class="tl">-10</text>
<text x="100.07" y="221.2" class="tl">0</text>
<text x="121.21" y="221.2" class="tl">10</text>
<text x="142.35" y="221.2" class="tl">20</text>
<text x="163.49" y="221.2" class="tl">30</text>
<text x="184.63" y="221.2" class="tl">40</text>
<path d="M36.64,210.18v2.6M57.78,210.18v2.6M78.93,210.18v2.6M100.07,210.18v2.6M121.21,210.18v2.6M142.35,210.18v2.6M163.49,210.18v2.6M184.63,210.18v2.6" stroke="#333" stroke-width="0.9"/>
<text x="124.7" y="231.4" class="al" textLength="56" lengthAdjust="spacingAndGlyphs">Temperature (<tspan font-size="4.5" dy="-2.8">o</tspan><tspan dy="2.8">C)</tspan></text>
<text transform="translate(9.2,120.6) rotate(-90)" class="al">P (hPa)</text>
<path d="M219.6,21.8V208.53" stroke="#666" stroke-width="0.8"/>
<text x="226.2" y="209.58" class="hz" textLength="3.3" lengthAdjust="spacingAndGlyphs">0</text>
<text x="226.2" y="199.99" class="hz" textLength="3.3" lengthAdjust="spacingAndGlyphs">1</text>
<text x="226.2" y="190.17" class="hz" textLength="3.3" lengthAdjust="spacingAndGlyphs">2</text>
<text x="226.2" y="180.12" class="hz" textLength="3.3" lengthAdjust="spacingAndGlyphs">3</text>
<text x="226.2" y="169.83" class="hz" textLength="3.3" lengthAdjust="spacingAndGlyphs">4</text>
<text x="226.2" y="159.27" class="hz" textLength="3.3" lengthAdjust="spacingAndGlyphs">5</text>
<text x="226.2" y="148.44" class="hz" textLength="3.3" lengthAdjust="spacingAndGlyphs">6</text>
<text x="226.2" y="137.33" class="hz" textLength="3.3" lengthAdjust="spacingAndGlyphs">7</text>
<text x="226.2" y="125.92" class="hz" textLength="3.3" lengthAdjust="spacingAndGlyphs">8</text>
<text x="226.2" y="114.18" class="hz" textLength="3.3" lengthAdjust="spacingAndGlyphs">9</text>
<text x="226.2" y="102.11" class="hz" textLength="6.6" lengthAdjust="spacingAndGlyphs">10</text>
<text x="226.2" y="89.68" class="hz" textLength="6.6" lengthAdjust="spacingAndGlyphs">11</text>
<text x="226.2" y="77.07" class="hz" textLength="6.6" lengthAdjust="spacingAndGlyphs">12</text>
<text x="226.2" y="64.46" class="hz" textLength="6.6" lengthAdjust="spacingAndGlyphs">13</text>
<text x="226.2" y="51.85" class="hz" textLength="6.6" lengthAdjust="spacingAndGlyphs">14</text>
<text x="226.2" y="39.23" class="hz" textLength="6.6" lengthAdjust="spacingAndGlyphs">15</text>
<text x="226.2" y="26.62" class="hz" textLength="6.6" lengthAdjust="spacingAndGlyphs">16</text>
<path d="M219.6,207.03h2.3M219.6,197.44h2.3M219.6,187.62h2.3M219.6,177.57h2.3M219.6,167.28h2.3M219.6,156.72h2.3M219.6,145.89h2.3M219.6,134.78h2.3M219.6,123.37h2.3M219.6,111.63h2.3M219.6,99.56h2.3M219.6,87.13h2.3M219.6,74.52h2.3M219.6,61.91h2.3M219.6,49.3h2.3M219.6,36.68h2.3M219.6,24.07h2.3" stroke="#444" stroke-width="0.9"/>
<text transform="translate(212.3,123) rotate(90)" class="hk" textLength="35" lengthAdjust="spacingAndGlyphs">Height (Km)</text><path d="M198,22.3V206.48" stroke="#444" stroke-width="1.1"/>
<path d="M198,22.5L189.7,23.3M189.7,23.3l-0.5,1.2M198,53.3L189.7,57.4M189.7,57.4l-1.3,-1.9M198,76L190,79.6M190,79.6l-1.3,-1.9M198,94L190,98M190,98l-1.3,-1.9M198,109.6L190,110.5M190,110.5l-1.3,-1.9M198,132.6L190,133M190,133l-1.3,-1.9M198,150.5L189.1,149.9M189.1,149.9l-1.3,-1.9M198,170.2L202.5,168.3M198,191.8L192.3,187.4" stroke="#151515" stroke-width="1.05" fill="none" stroke-linecap="round"/>
<path d="M189.4,23.1h0.01M189.4,57.2h0.01M189.7,79.4h0.01M189.7,97.8h0.01M189.7,110.3h0.01M189.7,132.8h0.01M188.8,149.7h0.01" stroke="#151515" stroke-width="1.8" stroke-linecap="round"/>
<path d="M197,34h2M197,72h2M197,118.3h2M197,127.4h2M197,139.2h2M197,143.7h2M197,154.6h2M197,158.3h2M197,162.8h2M197,22.5h2M197,53.3h2M197,76h2M197,94h2M197,109.6h2M197,132.6h2M197,150.5h2M197,170.2h2M197,191.8h2" stroke="#111" stroke-width="1.4"/>
<path d="M198,165V207.5" stroke="#111" stroke-width="1.6" stroke-dasharray="1.2,0.9"/></g>
<path d="M258.7,358.6 L263.5,365.5 L268,373 L272,382 L275.5,391.5 L278.2,401.6 L280.6,410" fill="none" stroke="#f01818" stroke-width="1.7" stroke-linejoin="round"/>
<path d="M214.2,276.2 L209.6,288 L210.5,292.1 L210,319.1 L209.3,341.2 L202.6,349 L199.6,355.5 L198.7,362 L202.5,370.9 L217.8,388.3 L251.6,389.3 L264,392.4 L264.3,400 L264,408.7 L269.1,416.3 L279.3,423.3 L274.8,431.6 L276.1,436" fill="none" stroke="#0000ff" stroke-width="1.8" stroke-linejoin="round"/>
<path d="M261,262 L260.4,277.4 L257.9,290.5 L260.4,294.5 L263.6,317.5 L266.9,330 L267.9,342.3 L263.8,348.4 L258.7,358.6 L258.7,365.8 L263.8,372.9 L270,385.2 L274.2,392.7 L276.1,399.5 L281.2,410.6 L286.3,423.3 L292,430.3 L301.6,436" fill="none" stroke="#000" stroke-width="1.7" stroke-linejoin="round"/>
<g transform="translate(138.5,239)"><rect x="92.6" y="22.6" width="83" height="16.5" fill="#fff" stroke="#8c8c8c" stroke-width="0.9"/><text x="94.1" y="34" class="bx">(</text><text x="99.4" y="34.8" class="bx">c</text><text x="106.6" y="34" class="bx">)</text><text x="118.6" y="34.8" class="bx" textLength="54.4" lengthAdjust="spacingAndGlyphs">1200 UTC</text></g>
<text x="15.4" y="11" class="tt" textLength="216.3" lengthAdjust="spacingAndGlyphs">Plcl=880 Tlcl[C]=16 Shox= -1 Pwat[cm]=3 CAPE[J]=0</text>
<text x="265.8" y="11.1" class="tt" textLength="218.5" lengthAdjust="spacingAndGlyphs">Plcl=868 Tlcl[C]=17 Shox= -1 Pwat[cm]=4 CAPE[J]=1766</text>
<text x="152.9" y="250.3" class="tt" textLength="220" lengthAdjust="spacingAndGlyphs">Plcl=761 Tlcl[C]=10 Shox=1 Pwat[cm]=3 CAPE[J]=205</text>
<path d="M37.4,489H64.4" stroke="#222" stroke-width="1.6"/>
<path d="M37.4,502.5H64.4" stroke="#1a1aff" stroke-width="1.6"/>
<path d="M37.4,515.6H65.5" stroke="#ff2020" stroke-width="1.6" stroke-dasharray="6,2.5"/>
<text x="69.3" y="489.7" class="lg" textLength="70.8" lengthAdjust="spacingAndGlyphs">Temperature profile</text>
<text x="69.3" y="504.8" class="lg" textLength="109.1" lengthAdjust="spacingAndGlyphs">Dew point temperature profile</text>
<text x="69.3" y="517.6" class="lg" textLength="119.6" lengthAdjust="spacingAndGlyphs">Temperature stratification profile</text>
<text x="37.4" y="531.1" class="lg" textLength="182.1" lengthAdjust="spacingAndGlyphs">Plcl: Pressure at Lifting Condensation Level (hPa)</text>
<text x="37.4" y="543.2" class="lg" textLength="174.7" lengthAdjust="spacingAndGlyphs">Tlcl: Temperature at Lifting Condensation Level</text>
<text x="216.6" y="543" class="lg" style="font-size:5.6px" textLength="12.4" lengthAdjust="spacingAndGlyphs">(°C)</text>
<text x="285.6" y="519" class="lg" textLength="83.3" lengthAdjust="spacingAndGlyphs">Shox: Showalter Index</text>
<text x="285.6" y="531.3" class="lg" textLength="108.7" lengthAdjust="spacingAndGlyphs">Pwat: Precipitable water (cm)</text>
<text x="285.6" y="543.7" class="lg" textLength="164.7" lengthAdjust="spacingAndGlyphs">CAPE: Convective available potential energy</text>
<text x="452.7" y="543.5" class="lg" style="font-size:5.4px" textLength="22.4" lengthAdjust="spacingAndGlyphs">(J Kg<tspan dy="-2.2" style="font-size:3.6px">-1</tspan><tspan dy="2.2">)</tspan></text>
</svg></body></html>
